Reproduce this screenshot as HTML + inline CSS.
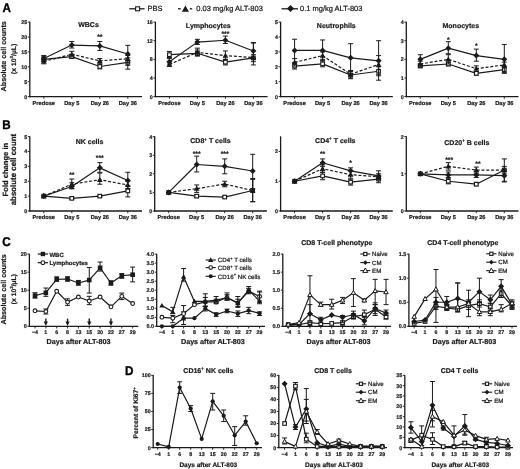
<!DOCTYPE html>
<html><head><meta charset="utf-8"><title>Figure</title>
<style>html,body{margin:0;padding:0;background:#fff;width:520px;height:469px;overflow:hidden}svg{display:block;filter:grayscale(1)}text{text-rendering:geometricPrecision}</style>
</head><body>
<svg width="520" height="469" viewBox="0 0 520 469" font-family='"Liberation Sans", sans-serif'>
<rect width="520" height="469" fill="#fff"/>
<line x1="129.3" y1="8.8" x2="144.5" y2="8.8" stroke="#1a1a1a" stroke-width="1.3"/>
<rect x="135.62" y="6.82" width="3.97" height="3.97" fill="#fff" stroke="#1a1a1a" stroke-width="1.1"/>
<text x="147.5" y="11.4" font-size="7.5" font-weight="normal" text-anchor="start" fill="#1a1a1a" stroke="#1a1a1a" stroke-width="0.22">PBS</text>
<line x1="178" y1="8.8" x2="180.8" y2="8.8" stroke="#1a1a1a" stroke-width="1.3"/>
<line x1="189.8" y1="8.8" x2="192.2" y2="8.8" stroke="#1a1a1a" stroke-width="1.3"/>
<polygon points="185.4,5.44 181.84,11.67 188.97,11.67" fill="#1a1a1a"/>
<text x="196.3" y="11.4" font-size="7.5" font-weight="normal" text-anchor="start" fill="#1a1a1a" stroke="#1a1a1a" stroke-width="0.22">0.03 mg/kg ALT-803</text>
<line x1="281.5" y1="8.8" x2="298" y2="8.8" stroke="#1a1a1a" stroke-width="1.3"/>
<polygon points="290.5,4.9 294.1,8.5 290.5,12.1 286.9,8.5" fill="#1a1a1a"/>
<text x="300" y="11.4" font-size="7.5" font-weight="normal" text-anchor="start" fill="#1a1a1a" stroke="#1a1a1a" stroke-width="0.22">0.1 mg/kg ALT-803</text>
<text transform="translate(2.6 11.7) scale(0.93 1)" font-size="12.6" font-weight="bold" fill="#000" stroke="#000" stroke-width="0.35">A</text>
<text transform="translate(2.2 129.4) scale(0.93 1)" font-size="12.6" font-weight="bold" fill="#000" stroke="#000" stroke-width="0.35">B</text>
<text transform="translate(2.3 246.2) scale(0.93 1)" font-size="12.6" font-weight="bold" fill="#000" stroke="#000" stroke-width="0.35">C</text>
<text transform="translate(125 374.9) scale(0.93 1)" font-size="12.6" font-weight="bold" fill="#000" stroke="#000" stroke-width="0.35">D</text>
<text x="6" y="56.3" font-size="7.2" font-weight="bold" text-anchor="middle" fill="#1a1a1a" transform="rotate(-90 6 56.3)" stroke="#1a1a1a" stroke-width="0.2">Absolute cell counts</text>
<text x="15.9" y="58.8" font-size="6.8" font-weight="bold" text-anchor="middle" fill="#1a1a1a" transform="rotate(-90 15.9 58.8)" stroke="#1a1a1a" stroke-width="0.2">(x 10<tspan font-size="4.4" dy="-2.6">3</tspan><tspan dy="2.6">/µL)</tspan></text>
<line x1="29.8" y1="21.8" x2="29.8" y2="97.15" stroke="#1a1a1a" stroke-width="1.3"/>
<line x1="29.3" y1="96.6" x2="142" y2="96.6" stroke="#1a1a1a" stroke-width="1.3"/>
<line x1="27.8" y1="96.6" x2="29.8" y2="96.6" stroke="#1a1a1a" stroke-width="0.9"/>
<text x="27.2" y="98.51" font-size="5.3" font-weight="bold" text-anchor="end" fill="#222" stroke="#222" stroke-width="0.2">0</text>
<line x1="27.8" y1="81.7" x2="29.8" y2="81.7" stroke="#1a1a1a" stroke-width="0.9"/>
<text x="27.2" y="83.61" font-size="5.3" font-weight="bold" text-anchor="end" fill="#222" stroke="#222" stroke-width="0.2">5</text>
<line x1="27.8" y1="66.8" x2="29.8" y2="66.8" stroke="#1a1a1a" stroke-width="0.9"/>
<text x="27.2" y="68.71" font-size="5.3" font-weight="bold" text-anchor="end" fill="#222" stroke="#222" stroke-width="0.2">10</text>
<line x1="27.8" y1="51.9" x2="29.8" y2="51.9" stroke="#1a1a1a" stroke-width="0.9"/>
<text x="27.2" y="53.81" font-size="5.3" font-weight="bold" text-anchor="end" fill="#222" stroke="#222" stroke-width="0.2">15</text>
<line x1="27.8" y1="37" x2="29.8" y2="37" stroke="#1a1a1a" stroke-width="0.9"/>
<text x="27.2" y="38.91" font-size="5.3" font-weight="bold" text-anchor="end" fill="#222" stroke="#222" stroke-width="0.2">20</text>
<line x1="27.8" y1="22.1" x2="29.8" y2="22.1" stroke="#1a1a1a" stroke-width="0.9"/>
<text x="27.2" y="24.01" font-size="5.3" font-weight="bold" text-anchor="end" fill="#222" stroke="#222" stroke-width="0.2">25</text>
<line x1="43.8" y1="96.6" x2="43.8" y2="98.8" stroke="#1a1a1a" stroke-width="0.9"/>
<text x="43.8" y="105" font-size="5.7" font-weight="bold" text-anchor="middle" fill="#1a1a1a" stroke="#1a1a1a" stroke-width="0.2">Predose</text>
<line x1="71.8" y1="96.6" x2="71.8" y2="98.8" stroke="#1a1a1a" stroke-width="0.9"/>
<text x="71.8" y="105" font-size="5.7" font-weight="bold" text-anchor="middle" fill="#1a1a1a" stroke="#1a1a1a" stroke-width="0.2">Day 5</text>
<line x1="99.8" y1="96.6" x2="99.8" y2="98.8" stroke="#1a1a1a" stroke-width="0.9"/>
<text x="99.8" y="105" font-size="5.7" font-weight="bold" text-anchor="middle" fill="#1a1a1a" stroke="#1a1a1a" stroke-width="0.2">Day 26</text>
<line x1="127.8" y1="96.6" x2="127.8" y2="98.8" stroke="#1a1a1a" stroke-width="0.9"/>
<text x="127.8" y="105" font-size="5.7" font-weight="bold" text-anchor="middle" fill="#1a1a1a" stroke="#1a1a1a" stroke-width="0.2">Day 36</text>
<text x="88.5" y="27" font-size="7" font-weight="bold" text-anchor="middle" fill="#1a1a1a" stroke="#1a1a1a" stroke-width="0.2">WBCs</text>
<polyline points="43.8,59.35 71.8,56.67 99.8,66.5 127.8,62.33" fill="none" stroke="#1a1a1a" stroke-width="1.2" stroke-linejoin="round"/>
<line x1="43.8" y1="61.44" x2="43.8" y2="56.37" stroke="#1a1a1a" stroke-width="1"/>
<line x1="41.3" y1="61.44" x2="46.3" y2="61.44" stroke="#1a1a1a" stroke-width="1"/>
<line x1="41.3" y1="56.37" x2="46.3" y2="56.37" stroke="#1a1a1a" stroke-width="1"/>
<line x1="71.8" y1="58.46" x2="71.8" y2="54.28" stroke="#1a1a1a" stroke-width="1"/>
<line x1="69.3" y1="58.46" x2="74.3" y2="58.46" stroke="#1a1a1a" stroke-width="1"/>
<line x1="69.3" y1="54.28" x2="74.3" y2="54.28" stroke="#1a1a1a" stroke-width="1"/>
<line x1="99.8" y1="68.89" x2="99.8" y2="64.12" stroke="#1a1a1a" stroke-width="1"/>
<line x1="97.3" y1="68.89" x2="102.3" y2="68.89" stroke="#1a1a1a" stroke-width="1"/>
<line x1="97.3" y1="64.12" x2="102.3" y2="64.12" stroke="#1a1a1a" stroke-width="1"/>
<line x1="127.8" y1="69.18" x2="127.8" y2="57.86" stroke="#1a1a1a" stroke-width="1"/>
<line x1="125.3" y1="69.18" x2="130.3" y2="69.18" stroke="#1a1a1a" stroke-width="1"/>
<line x1="125.3" y1="57.86" x2="130.3" y2="57.86" stroke="#1a1a1a" stroke-width="1"/>
<rect x="42" y="57.55" width="3.6" height="3.6" fill="#fff" stroke="#1a1a1a" stroke-width="1.1"/>
<rect x="70" y="54.87" width="3.6" height="3.6" fill="#fff" stroke="#1a1a1a" stroke-width="1.1"/>
<rect x="98" y="64.7" width="3.6" height="3.6" fill="#fff" stroke="#1a1a1a" stroke-width="1.1"/>
<rect x="126" y="60.53" width="3.6" height="3.6" fill="#fff" stroke="#1a1a1a" stroke-width="1.1"/>
<polyline points="43.8,61.44 71.8,54.28 99.8,60.84 127.8,58.75" fill="none" stroke="#1a1a1a" stroke-width="1.2" stroke-dasharray="3,1.8" stroke-linejoin="round"/>
<line x1="43.8" y1="63.82" x2="43.8" y2="59.35" stroke="#1a1a1a" stroke-width="1"/>
<line x1="41.3" y1="63.82" x2="46.3" y2="63.82" stroke="#1a1a1a" stroke-width="1"/>
<line x1="41.3" y1="59.35" x2="46.3" y2="59.35" stroke="#1a1a1a" stroke-width="1"/>
<line x1="71.8" y1="56.97" x2="71.8" y2="51.3" stroke="#1a1a1a" stroke-width="1"/>
<line x1="69.3" y1="56.97" x2="74.3" y2="56.97" stroke="#1a1a1a" stroke-width="1"/>
<line x1="69.3" y1="51.3" x2="74.3" y2="51.3" stroke="#1a1a1a" stroke-width="1"/>
<line x1="99.8" y1="63.82" x2="99.8" y2="58.46" stroke="#1a1a1a" stroke-width="1"/>
<line x1="97.3" y1="63.82" x2="102.3" y2="63.82" stroke="#1a1a1a" stroke-width="1"/>
<line x1="97.3" y1="58.46" x2="102.3" y2="58.46" stroke="#1a1a1a" stroke-width="1"/>
<line x1="127.8" y1="65.31" x2="127.8" y2="55.48" stroke="#1a1a1a" stroke-width="1"/>
<line x1="125.3" y1="65.31" x2="130.3" y2="65.31" stroke="#1a1a1a" stroke-width="1"/>
<line x1="125.3" y1="55.48" x2="130.3" y2="55.48" stroke="#1a1a1a" stroke-width="1"/>
<polygon points="43.8,58.56 40.92,63.59 46.67,63.59" fill="#1a1a1a"/>
<polygon points="71.8,51.41 68.92,56.44 74.67,56.44" fill="#1a1a1a"/>
<polygon points="99.8,57.96 96.92,63 102.67,63" fill="#1a1a1a"/>
<polygon points="127.8,55.88 124.92,60.91 130.68,60.91" fill="#1a1a1a"/>
<polyline points="43.8,58.46 71.8,45.05 99.8,45.94 127.8,53.99" fill="none" stroke="#1a1a1a" stroke-width="1.2" stroke-linejoin="round"/>
<line x1="43.8" y1="60.84" x2="43.8" y2="55.48" stroke="#1a1a1a" stroke-width="1"/>
<line x1="41.3" y1="60.84" x2="46.3" y2="60.84" stroke="#1a1a1a" stroke-width="1"/>
<line x1="41.3" y1="55.48" x2="46.3" y2="55.48" stroke="#1a1a1a" stroke-width="1"/>
<line x1="71.8" y1="48.03" x2="71.8" y2="41.47" stroke="#1a1a1a" stroke-width="1"/>
<line x1="69.3" y1="48.03" x2="74.3" y2="48.03" stroke="#1a1a1a" stroke-width="1"/>
<line x1="69.3" y1="41.47" x2="74.3" y2="41.47" stroke="#1a1a1a" stroke-width="1"/>
<line x1="99.8" y1="50.41" x2="99.8" y2="41.47" stroke="#1a1a1a" stroke-width="1"/>
<line x1="97.3" y1="50.41" x2="102.3" y2="50.41" stroke="#1a1a1a" stroke-width="1"/>
<line x1="97.3" y1="41.47" x2="102.3" y2="41.47" stroke="#1a1a1a" stroke-width="1"/>
<line x1="127.8" y1="62.33" x2="127.8" y2="45.34" stroke="#1a1a1a" stroke-width="1"/>
<line x1="125.3" y1="62.33" x2="130.3" y2="62.33" stroke="#1a1a1a" stroke-width="1"/>
<line x1="125.3" y1="45.34" x2="130.3" y2="45.34" stroke="#1a1a1a" stroke-width="1"/>
<polygon points="43.8,55.46 46.8,58.46 43.8,61.46 40.8,58.46" fill="#1a1a1a"/>
<polygon points="71.8,42.05 74.8,45.05 71.8,48.05 68.8,45.05" fill="#1a1a1a"/>
<polygon points="99.8,42.94 102.8,45.94 99.8,48.94 96.8,45.94" fill="#1a1a1a"/>
<polygon points="127.8,50.99 130.8,53.99 127.8,56.99 124.8,53.99" fill="#1a1a1a"/>
<text x="99.8" y="38.8" font-size="6.8" font-weight="bold" text-anchor="middle" fill="#1a1a1a" stroke="#1a1a1a" stroke-width="0.2">**</text>
<line x1="155.4" y1="21.8" x2="155.4" y2="97.15" stroke="#1a1a1a" stroke-width="1.3"/>
<line x1="154.9" y1="96.6" x2="267.6" y2="96.6" stroke="#1a1a1a" stroke-width="1.3"/>
<line x1="153.4" y1="96.6" x2="155.4" y2="96.6" stroke="#1a1a1a" stroke-width="0.9"/>
<text x="152.8" y="98.51" font-size="5.3" font-weight="bold" text-anchor="end" fill="#222" stroke="#222" stroke-width="0.2">0</text>
<line x1="153.4" y1="77.97" x2="155.4" y2="77.97" stroke="#1a1a1a" stroke-width="0.9"/>
<text x="152.8" y="79.88" font-size="5.3" font-weight="bold" text-anchor="end" fill="#222" stroke="#222" stroke-width="0.2">4</text>
<line x1="153.4" y1="59.35" x2="155.4" y2="59.35" stroke="#1a1a1a" stroke-width="0.9"/>
<text x="152.8" y="61.26" font-size="5.3" font-weight="bold" text-anchor="end" fill="#222" stroke="#222" stroke-width="0.2">8</text>
<line x1="153.4" y1="40.72" x2="155.4" y2="40.72" stroke="#1a1a1a" stroke-width="0.9"/>
<text x="152.8" y="42.63" font-size="5.3" font-weight="bold" text-anchor="end" fill="#222" stroke="#222" stroke-width="0.2">12</text>
<line x1="153.4" y1="22.1" x2="155.4" y2="22.1" stroke="#1a1a1a" stroke-width="0.9"/>
<text x="152.8" y="24.01" font-size="5.3" font-weight="bold" text-anchor="end" fill="#222" stroke="#222" stroke-width="0.2">16</text>
<line x1="169.4" y1="96.6" x2="169.4" y2="98.8" stroke="#1a1a1a" stroke-width="0.9"/>
<text x="169.4" y="105" font-size="5.7" font-weight="bold" text-anchor="middle" fill="#1a1a1a" stroke="#1a1a1a" stroke-width="0.2">Predose</text>
<line x1="197.4" y1="96.6" x2="197.4" y2="98.8" stroke="#1a1a1a" stroke-width="0.9"/>
<text x="197.4" y="105" font-size="5.7" font-weight="bold" text-anchor="middle" fill="#1a1a1a" stroke="#1a1a1a" stroke-width="0.2">Day 5</text>
<line x1="225.4" y1="96.6" x2="225.4" y2="98.8" stroke="#1a1a1a" stroke-width="0.9"/>
<text x="225.4" y="105" font-size="5.7" font-weight="bold" text-anchor="middle" fill="#1a1a1a" stroke="#1a1a1a" stroke-width="0.2">Day 26</text>
<line x1="253.4" y1="96.6" x2="253.4" y2="98.8" stroke="#1a1a1a" stroke-width="0.9"/>
<text x="253.4" y="105" font-size="5.7" font-weight="bold" text-anchor="middle" fill="#1a1a1a" stroke="#1a1a1a" stroke-width="0.2">Day 36</text>
<text x="208.3" y="27.5" font-size="7" font-weight="bold" text-anchor="middle" fill="#1a1a1a" stroke="#1a1a1a" stroke-width="0.2">Lymphocytes</text>
<polyline points="169.4,54.69 197.4,53.3 225.4,62.14 253.4,57.95" fill="none" stroke="#1a1a1a" stroke-width="1.2" stroke-linejoin="round"/>
<line x1="169.4" y1="57.49" x2="169.4" y2="51.43" stroke="#1a1a1a" stroke-width="1"/>
<line x1="166.9" y1="57.49" x2="171.9" y2="57.49" stroke="#1a1a1a" stroke-width="1"/>
<line x1="166.9" y1="51.43" x2="171.9" y2="51.43" stroke="#1a1a1a" stroke-width="1"/>
<line x1="197.4" y1="56.09" x2="197.4" y2="50.04" stroke="#1a1a1a" stroke-width="1"/>
<line x1="194.9" y1="56.09" x2="199.9" y2="56.09" stroke="#1a1a1a" stroke-width="1"/>
<line x1="194.9" y1="50.04" x2="199.9" y2="50.04" stroke="#1a1a1a" stroke-width="1"/>
<line x1="225.4" y1="64.94" x2="225.4" y2="59.35" stroke="#1a1a1a" stroke-width="1"/>
<line x1="222.9" y1="64.94" x2="227.9" y2="64.94" stroke="#1a1a1a" stroke-width="1"/>
<line x1="222.9" y1="59.35" x2="227.9" y2="59.35" stroke="#1a1a1a" stroke-width="1"/>
<line x1="253.4" y1="61.68" x2="253.4" y2="54.69" stroke="#1a1a1a" stroke-width="1"/>
<line x1="250.9" y1="61.68" x2="255.9" y2="61.68" stroke="#1a1a1a" stroke-width="1"/>
<line x1="250.9" y1="54.69" x2="255.9" y2="54.69" stroke="#1a1a1a" stroke-width="1"/>
<rect x="167.6" y="52.89" width="3.6" height="3.6" fill="#fff" stroke="#1a1a1a" stroke-width="1.1"/>
<rect x="195.6" y="51.5" width="3.6" height="3.6" fill="#fff" stroke="#1a1a1a" stroke-width="1.1"/>
<rect x="223.6" y="60.34" width="3.6" height="3.6" fill="#fff" stroke="#1a1a1a" stroke-width="1.1"/>
<rect x="251.6" y="56.15" width="3.6" height="3.6" fill="#fff" stroke="#1a1a1a" stroke-width="1.1"/>
<polyline points="169.4,64.47 197.4,52.37 225.4,55.62 253.4,57.49" fill="none" stroke="#1a1a1a" stroke-width="1.2" stroke-dasharray="3,1.8" stroke-linejoin="round"/>
<line x1="169.4" y1="66.33" x2="169.4" y2="61.68" stroke="#1a1a1a" stroke-width="1"/>
<line x1="166.9" y1="66.33" x2="171.9" y2="66.33" stroke="#1a1a1a" stroke-width="1"/>
<line x1="166.9" y1="61.68" x2="171.9" y2="61.68" stroke="#1a1a1a" stroke-width="1"/>
<line x1="197.4" y1="55.62" x2="197.4" y2="48.17" stroke="#1a1a1a" stroke-width="1"/>
<line x1="194.9" y1="55.62" x2="199.9" y2="55.62" stroke="#1a1a1a" stroke-width="1"/>
<line x1="194.9" y1="48.17" x2="199.9" y2="48.17" stroke="#1a1a1a" stroke-width="1"/>
<line x1="225.4" y1="59.35" x2="225.4" y2="50.97" stroke="#1a1a1a" stroke-width="1"/>
<line x1="222.9" y1="59.35" x2="227.9" y2="59.35" stroke="#1a1a1a" stroke-width="1"/>
<line x1="222.9" y1="50.97" x2="227.9" y2="50.97" stroke="#1a1a1a" stroke-width="1"/>
<line x1="253.4" y1="64.94" x2="253.4" y2="42.59" stroke="#1a1a1a" stroke-width="1"/>
<line x1="250.9" y1="64.94" x2="255.9" y2="64.94" stroke="#1a1a1a" stroke-width="1"/>
<line x1="250.9" y1="42.59" x2="255.9" y2="42.59" stroke="#1a1a1a" stroke-width="1"/>
<polygon points="169.4,61.6 166.53,66.63 172.28,66.63" fill="#1a1a1a"/>
<polygon points="197.4,49.49 194.53,54.52 200.28,54.52" fill="#1a1a1a"/>
<polygon points="225.4,52.75 222.53,57.78 228.28,57.78" fill="#1a1a1a"/>
<polygon points="253.4,54.61 250.53,59.64 256.27,59.64" fill="#1a1a1a"/>
<polyline points="169.4,61.68 197.4,42.12 225.4,40.26 253.4,50.97" fill="none" stroke="#1a1a1a" stroke-width="1.2" stroke-linejoin="round"/>
<line x1="169.4" y1="64.01" x2="169.4" y2="58.42" stroke="#1a1a1a" stroke-width="1"/>
<line x1="166.9" y1="64.01" x2="171.9" y2="64.01" stroke="#1a1a1a" stroke-width="1"/>
<line x1="166.9" y1="58.42" x2="171.9" y2="58.42" stroke="#1a1a1a" stroke-width="1"/>
<line x1="197.4" y1="44.45" x2="197.4" y2="39.33" stroke="#1a1a1a" stroke-width="1"/>
<line x1="194.9" y1="44.45" x2="199.9" y2="44.45" stroke="#1a1a1a" stroke-width="1"/>
<line x1="194.9" y1="39.33" x2="199.9" y2="39.33" stroke="#1a1a1a" stroke-width="1"/>
<line x1="225.4" y1="43.52" x2="225.4" y2="36.07" stroke="#1a1a1a" stroke-width="1"/>
<line x1="222.9" y1="43.52" x2="227.9" y2="43.52" stroke="#1a1a1a" stroke-width="1"/>
<line x1="222.9" y1="36.07" x2="227.9" y2="36.07" stroke="#1a1a1a" stroke-width="1"/>
<line x1="253.4" y1="58.42" x2="253.4" y2="43.05" stroke="#1a1a1a" stroke-width="1"/>
<line x1="250.9" y1="58.42" x2="255.9" y2="58.42" stroke="#1a1a1a" stroke-width="1"/>
<line x1="250.9" y1="43.05" x2="255.9" y2="43.05" stroke="#1a1a1a" stroke-width="1"/>
<polygon points="169.4,58.68 172.4,61.68 169.4,64.68 166.4,61.68" fill="#1a1a1a"/>
<polygon points="197.4,39.12 200.4,42.12 197.4,45.12 194.4,42.12" fill="#1a1a1a"/>
<polygon points="225.4,37.26 228.4,40.26 225.4,43.26 222.4,40.26" fill="#1a1a1a"/>
<polygon points="253.4,47.97 256.4,50.97 253.4,53.97 250.4,50.97" fill="#1a1a1a"/>
<text x="225.4" y="36.3" font-size="6.8" font-weight="bold" text-anchor="middle" fill="#1a1a1a" stroke="#1a1a1a" stroke-width="0.2">***</text>
<line x1="280.6" y1="21.8" x2="280.6" y2="97.15" stroke="#1a1a1a" stroke-width="1.3"/>
<line x1="280.1" y1="96.6" x2="392.8" y2="96.6" stroke="#1a1a1a" stroke-width="1.3"/>
<line x1="278.6" y1="96.6" x2="280.6" y2="96.6" stroke="#1a1a1a" stroke-width="0.9"/>
<text x="278" y="98.51" font-size="5.3" font-weight="bold" text-anchor="end" fill="#222" stroke="#222" stroke-width="0.2">0</text>
<line x1="278.6" y1="81.7" x2="280.6" y2="81.7" stroke="#1a1a1a" stroke-width="0.9"/>
<text x="278" y="83.61" font-size="5.3" font-weight="bold" text-anchor="end" fill="#222" stroke="#222" stroke-width="0.2">1</text>
<line x1="278.6" y1="66.8" x2="280.6" y2="66.8" stroke="#1a1a1a" stroke-width="0.9"/>
<text x="278" y="68.71" font-size="5.3" font-weight="bold" text-anchor="end" fill="#222" stroke="#222" stroke-width="0.2">2</text>
<line x1="278.6" y1="51.9" x2="280.6" y2="51.9" stroke="#1a1a1a" stroke-width="0.9"/>
<text x="278" y="53.81" font-size="5.3" font-weight="bold" text-anchor="end" fill="#222" stroke="#222" stroke-width="0.2">3</text>
<line x1="278.6" y1="37" x2="280.6" y2="37" stroke="#1a1a1a" stroke-width="0.9"/>
<text x="278" y="38.91" font-size="5.3" font-weight="bold" text-anchor="end" fill="#222" stroke="#222" stroke-width="0.2">4</text>
<line x1="278.6" y1="22.1" x2="280.6" y2="22.1" stroke="#1a1a1a" stroke-width="0.9"/>
<text x="278" y="24.01" font-size="5.3" font-weight="bold" text-anchor="end" fill="#222" stroke="#222" stroke-width="0.2">5</text>
<line x1="294.6" y1="96.6" x2="294.6" y2="98.8" stroke="#1a1a1a" stroke-width="0.9"/>
<text x="294.6" y="105" font-size="5.7" font-weight="bold" text-anchor="middle" fill="#1a1a1a" stroke="#1a1a1a" stroke-width="0.2">Predose</text>
<line x1="322.6" y1="96.6" x2="322.6" y2="98.8" stroke="#1a1a1a" stroke-width="0.9"/>
<text x="322.6" y="105" font-size="5.7" font-weight="bold" text-anchor="middle" fill="#1a1a1a" stroke="#1a1a1a" stroke-width="0.2">Day 5</text>
<line x1="350.6" y1="96.6" x2="350.6" y2="98.8" stroke="#1a1a1a" stroke-width="0.9"/>
<text x="350.6" y="105" font-size="5.7" font-weight="bold" text-anchor="middle" fill="#1a1a1a" stroke="#1a1a1a" stroke-width="0.2">Day 26</text>
<line x1="378.6" y1="96.6" x2="378.6" y2="98.8" stroke="#1a1a1a" stroke-width="0.9"/>
<text x="378.6" y="105" font-size="5.7" font-weight="bold" text-anchor="middle" fill="#1a1a1a" stroke="#1a1a1a" stroke-width="0.2">Day 36</text>
<text x="336.3" y="27.5" font-size="7" font-weight="bold" text-anchor="middle" fill="#1a1a1a" stroke="#1a1a1a" stroke-width="0.2">Neutrophils</text>
<polyline points="294.6,66.05 322.6,63.82 350.6,75 378.6,71.27" fill="none" stroke="#1a1a1a" stroke-width="1.2" stroke-linejoin="round"/>
<line x1="294.6" y1="69.03" x2="294.6" y2="63.07" stroke="#1a1a1a" stroke-width="1"/>
<line x1="292.1" y1="69.03" x2="297.1" y2="69.03" stroke="#1a1a1a" stroke-width="1"/>
<line x1="292.1" y1="63.07" x2="297.1" y2="63.07" stroke="#1a1a1a" stroke-width="1"/>
<line x1="322.6" y1="66.8" x2="322.6" y2="60.84" stroke="#1a1a1a" stroke-width="1"/>
<line x1="320.1" y1="66.8" x2="325.1" y2="66.8" stroke="#1a1a1a" stroke-width="1"/>
<line x1="320.1" y1="60.84" x2="325.1" y2="60.84" stroke="#1a1a1a" stroke-width="1"/>
<line x1="350.6" y1="78.72" x2="350.6" y2="71.27" stroke="#1a1a1a" stroke-width="1"/>
<line x1="348.1" y1="78.72" x2="353.1" y2="78.72" stroke="#1a1a1a" stroke-width="1"/>
<line x1="348.1" y1="71.27" x2="353.1" y2="71.27" stroke="#1a1a1a" stroke-width="1"/>
<line x1="378.6" y1="75.74" x2="378.6" y2="66.8" stroke="#1a1a1a" stroke-width="1"/>
<line x1="376.1" y1="75.74" x2="381.1" y2="75.74" stroke="#1a1a1a" stroke-width="1"/>
<line x1="376.1" y1="66.8" x2="381.1" y2="66.8" stroke="#1a1a1a" stroke-width="1"/>
<rect x="292.8" y="64.25" width="3.6" height="3.6" fill="#fff" stroke="#1a1a1a" stroke-width="1.1"/>
<rect x="320.8" y="62.02" width="3.6" height="3.6" fill="#fff" stroke="#1a1a1a" stroke-width="1.1"/>
<rect x="348.8" y="73.2" width="3.6" height="3.6" fill="#fff" stroke="#1a1a1a" stroke-width="1.1"/>
<rect x="376.8" y="69.47" width="3.6" height="3.6" fill="#fff" stroke="#1a1a1a" stroke-width="1.1"/>
<polyline points="294.6,62.33 322.6,55.62 350.6,74.25 378.6,64.56" fill="none" stroke="#1a1a1a" stroke-width="1.2" stroke-dasharray="3,1.8" stroke-linejoin="round"/>
<line x1="294.6" y1="66.05" x2="294.6" y2="58.6" stroke="#1a1a1a" stroke-width="1"/>
<line x1="292.1" y1="66.05" x2="297.1" y2="66.05" stroke="#1a1a1a" stroke-width="1"/>
<line x1="292.1" y1="58.6" x2="297.1" y2="58.6" stroke="#1a1a1a" stroke-width="1"/>
<line x1="322.6" y1="59.35" x2="322.6" y2="51.9" stroke="#1a1a1a" stroke-width="1"/>
<line x1="320.1" y1="59.35" x2="325.1" y2="59.35" stroke="#1a1a1a" stroke-width="1"/>
<line x1="320.1" y1="51.9" x2="325.1" y2="51.9" stroke="#1a1a1a" stroke-width="1"/>
<line x1="350.6" y1="77.97" x2="350.6" y2="70.52" stroke="#1a1a1a" stroke-width="1"/>
<line x1="348.1" y1="77.97" x2="353.1" y2="77.97" stroke="#1a1a1a" stroke-width="1"/>
<line x1="348.1" y1="70.52" x2="353.1" y2="70.52" stroke="#1a1a1a" stroke-width="1"/>
<line x1="378.6" y1="74.25" x2="378.6" y2="55.62" stroke="#1a1a1a" stroke-width="1"/>
<line x1="376.1" y1="74.25" x2="381.1" y2="74.25" stroke="#1a1a1a" stroke-width="1"/>
<line x1="376.1" y1="55.62" x2="381.1" y2="55.62" stroke="#1a1a1a" stroke-width="1"/>
<polygon points="294.6,59.45 291.73,64.49 297.48,64.49" fill="#1a1a1a"/>
<polygon points="322.6,52.75 319.73,57.78 325.48,57.78" fill="#1a1a1a"/>
<polygon points="350.6,71.38 347.73,76.41 353.48,76.41" fill="#1a1a1a"/>
<polygon points="378.6,61.69 375.73,66.72 381.48,66.72" fill="#1a1a1a"/>
<polyline points="294.6,50.41 322.6,50.41 350.6,57.86 378.6,60.84" fill="none" stroke="#1a1a1a" stroke-width="1.2" stroke-linejoin="round"/>
<line x1="294.6" y1="62.33" x2="294.6" y2="39.23" stroke="#1a1a1a" stroke-width="1"/>
<line x1="292.1" y1="62.33" x2="297.1" y2="62.33" stroke="#1a1a1a" stroke-width="1"/>
<line x1="292.1" y1="39.23" x2="297.1" y2="39.23" stroke="#1a1a1a" stroke-width="1"/>
<line x1="322.6" y1="60.84" x2="322.6" y2="39.98" stroke="#1a1a1a" stroke-width="1"/>
<line x1="320.1" y1="60.84" x2="325.1" y2="60.84" stroke="#1a1a1a" stroke-width="1"/>
<line x1="320.1" y1="39.98" x2="325.1" y2="39.98" stroke="#1a1a1a" stroke-width="1"/>
<line x1="350.6" y1="71.27" x2="350.6" y2="43.7" stroke="#1a1a1a" stroke-width="1"/>
<line x1="348.1" y1="71.27" x2="353.1" y2="71.27" stroke="#1a1a1a" stroke-width="1"/>
<line x1="348.1" y1="43.7" x2="353.1" y2="43.7" stroke="#1a1a1a" stroke-width="1"/>
<line x1="378.6" y1="80.21" x2="378.6" y2="40.72" stroke="#1a1a1a" stroke-width="1"/>
<line x1="376.1" y1="80.21" x2="381.1" y2="80.21" stroke="#1a1a1a" stroke-width="1"/>
<line x1="376.1" y1="40.72" x2="381.1" y2="40.72" stroke="#1a1a1a" stroke-width="1"/>
<polygon points="294.6,47.41 297.6,50.41 294.6,53.41 291.6,50.41" fill="#1a1a1a"/>
<polygon points="322.6,47.41 325.6,50.41 322.6,53.41 319.6,50.41" fill="#1a1a1a"/>
<polygon points="350.6,54.86 353.6,57.86 350.6,60.86 347.6,57.86" fill="#1a1a1a"/>
<polygon points="378.6,57.84 381.6,60.84 378.6,63.84 375.6,60.84" fill="#1a1a1a"/>
<line x1="406.3" y1="21.8" x2="406.3" y2="97.15" stroke="#1a1a1a" stroke-width="1.3"/>
<line x1="405.8" y1="96.6" x2="518.5" y2="96.6" stroke="#1a1a1a" stroke-width="1.3"/>
<line x1="404.3" y1="96.6" x2="406.3" y2="96.6" stroke="#1a1a1a" stroke-width="0.9"/>
<text x="403.7" y="98.51" font-size="5.3" font-weight="bold" text-anchor="end" fill="#222" stroke="#222" stroke-width="0.2">0</text>
<line x1="404.3" y1="77.97" x2="406.3" y2="77.97" stroke="#1a1a1a" stroke-width="0.9"/>
<text x="403.7" y="79.88" font-size="5.3" font-weight="bold" text-anchor="end" fill="#222" stroke="#222" stroke-width="0.2">1</text>
<line x1="404.3" y1="59.35" x2="406.3" y2="59.35" stroke="#1a1a1a" stroke-width="0.9"/>
<text x="403.7" y="61.26" font-size="5.3" font-weight="bold" text-anchor="end" fill="#222" stroke="#222" stroke-width="0.2">2</text>
<line x1="404.3" y1="40.72" x2="406.3" y2="40.72" stroke="#1a1a1a" stroke-width="0.9"/>
<text x="403.7" y="42.63" font-size="5.3" font-weight="bold" text-anchor="end" fill="#222" stroke="#222" stroke-width="0.2">3</text>
<line x1="404.3" y1="22.1" x2="406.3" y2="22.1" stroke="#1a1a1a" stroke-width="0.9"/>
<text x="403.7" y="24.01" font-size="5.3" font-weight="bold" text-anchor="end" fill="#222" stroke="#222" stroke-width="0.2">4</text>
<line x1="420.3" y1="96.6" x2="420.3" y2="98.8" stroke="#1a1a1a" stroke-width="0.9"/>
<text x="420.3" y="105" font-size="5.7" font-weight="bold" text-anchor="middle" fill="#1a1a1a" stroke="#1a1a1a" stroke-width="0.2">Predose</text>
<line x1="448.3" y1="96.6" x2="448.3" y2="98.8" stroke="#1a1a1a" stroke-width="0.9"/>
<text x="448.3" y="105" font-size="5.7" font-weight="bold" text-anchor="middle" fill="#1a1a1a" stroke="#1a1a1a" stroke-width="0.2">Day 5</text>
<line x1="476.3" y1="96.6" x2="476.3" y2="98.8" stroke="#1a1a1a" stroke-width="0.9"/>
<text x="476.3" y="105" font-size="5.7" font-weight="bold" text-anchor="middle" fill="#1a1a1a" stroke="#1a1a1a" stroke-width="0.2">Day 26</text>
<line x1="504.3" y1="96.6" x2="504.3" y2="98.8" stroke="#1a1a1a" stroke-width="0.9"/>
<text x="504.3" y="105" font-size="5.7" font-weight="bold" text-anchor="middle" fill="#1a1a1a" stroke="#1a1a1a" stroke-width="0.2">Day 36</text>
<text x="460.8" y="27.5" font-size="7" font-weight="bold" text-anchor="middle" fill="#1a1a1a" stroke="#1a1a1a" stroke-width="0.2">Monocytes</text>
<polyline points="420.3,65.87 448.3,64.01 476.3,73.32 504.3,69.59" fill="none" stroke="#1a1a1a" stroke-width="1.2" stroke-linejoin="round"/>
<line x1="420.3" y1="67.73" x2="420.3" y2="64.01" stroke="#1a1a1a" stroke-width="1"/>
<line x1="417.8" y1="67.73" x2="422.8" y2="67.73" stroke="#1a1a1a" stroke-width="1"/>
<line x1="417.8" y1="64.01" x2="422.8" y2="64.01" stroke="#1a1a1a" stroke-width="1"/>
<line x1="448.3" y1="65.87" x2="448.3" y2="62.14" stroke="#1a1a1a" stroke-width="1"/>
<line x1="445.8" y1="65.87" x2="450.8" y2="65.87" stroke="#1a1a1a" stroke-width="1"/>
<line x1="445.8" y1="62.14" x2="450.8" y2="62.14" stroke="#1a1a1a" stroke-width="1"/>
<line x1="476.3" y1="75.18" x2="476.3" y2="71.46" stroke="#1a1a1a" stroke-width="1"/>
<line x1="473.8" y1="75.18" x2="478.8" y2="75.18" stroke="#1a1a1a" stroke-width="1"/>
<line x1="473.8" y1="71.46" x2="478.8" y2="71.46" stroke="#1a1a1a" stroke-width="1"/>
<line x1="504.3" y1="73.32" x2="504.3" y2="66.8" stroke="#1a1a1a" stroke-width="1"/>
<line x1="501.8" y1="73.32" x2="506.8" y2="73.32" stroke="#1a1a1a" stroke-width="1"/>
<line x1="501.8" y1="66.8" x2="506.8" y2="66.8" stroke="#1a1a1a" stroke-width="1"/>
<rect x="418.5" y="64.07" width="3.6" height="3.6" fill="#fff" stroke="#1a1a1a" stroke-width="1.1"/>
<rect x="446.5" y="62.21" width="3.6" height="3.6" fill="#fff" stroke="#1a1a1a" stroke-width="1.1"/>
<rect x="474.5" y="71.52" width="3.6" height="3.6" fill="#fff" stroke="#1a1a1a" stroke-width="1.1"/>
<rect x="502.5" y="67.79" width="3.6" height="3.6" fill="#fff" stroke="#1a1a1a" stroke-width="1.1"/>
<polyline points="420.3,64.01 448.3,59.35 476.3,68.66 504.3,64.94" fill="none" stroke="#1a1a1a" stroke-width="1.2" stroke-dasharray="3,1.8" stroke-linejoin="round"/>
<line x1="420.3" y1="66.8" x2="420.3" y2="61.21" stroke="#1a1a1a" stroke-width="1"/>
<line x1="417.8" y1="66.8" x2="422.8" y2="66.8" stroke="#1a1a1a" stroke-width="1"/>
<line x1="417.8" y1="61.21" x2="422.8" y2="61.21" stroke="#1a1a1a" stroke-width="1"/>
<line x1="448.3" y1="64.01" x2="448.3" y2="54.69" stroke="#1a1a1a" stroke-width="1"/>
<line x1="445.8" y1="64.01" x2="450.8" y2="64.01" stroke="#1a1a1a" stroke-width="1"/>
<line x1="445.8" y1="54.69" x2="450.8" y2="54.69" stroke="#1a1a1a" stroke-width="1"/>
<line x1="476.3" y1="71.46" x2="476.3" y2="65.87" stroke="#1a1a1a" stroke-width="1"/>
<line x1="473.8" y1="71.46" x2="478.8" y2="71.46" stroke="#1a1a1a" stroke-width="1"/>
<line x1="473.8" y1="65.87" x2="478.8" y2="65.87" stroke="#1a1a1a" stroke-width="1"/>
<line x1="504.3" y1="67.73" x2="504.3" y2="62.14" stroke="#1a1a1a" stroke-width="1"/>
<line x1="501.8" y1="67.73" x2="506.8" y2="67.73" stroke="#1a1a1a" stroke-width="1"/>
<line x1="501.8" y1="62.14" x2="506.8" y2="62.14" stroke="#1a1a1a" stroke-width="1"/>
<polygon points="420.3,61.13 417.43,66.16 423.18,66.16" fill="#1a1a1a"/>
<polygon points="448.3,56.47 445.43,61.51 451.18,61.51" fill="#1a1a1a"/>
<polygon points="476.3,65.79 473.43,70.82 479.18,70.82" fill="#1a1a1a"/>
<polygon points="504.3,62.06 501.43,67.09 507.18,67.09" fill="#1a1a1a"/>
<polyline points="420.3,59.35 448.3,48.17 476.3,55.62 504.3,59.35" fill="none" stroke="#1a1a1a" stroke-width="1.2" stroke-linejoin="round"/>
<line x1="420.3" y1="64.01" x2="420.3" y2="54.69" stroke="#1a1a1a" stroke-width="1"/>
<line x1="417.8" y1="64.01" x2="422.8" y2="64.01" stroke="#1a1a1a" stroke-width="1"/>
<line x1="417.8" y1="54.69" x2="422.8" y2="54.69" stroke="#1a1a1a" stroke-width="1"/>
<line x1="448.3" y1="53.76" x2="448.3" y2="41.66" stroke="#1a1a1a" stroke-width="1"/>
<line x1="445.8" y1="53.76" x2="450.8" y2="53.76" stroke="#1a1a1a" stroke-width="1"/>
<line x1="445.8" y1="41.66" x2="450.8" y2="41.66" stroke="#1a1a1a" stroke-width="1"/>
<line x1="476.3" y1="61.21" x2="476.3" y2="49.11" stroke="#1a1a1a" stroke-width="1"/>
<line x1="473.8" y1="61.21" x2="478.8" y2="61.21" stroke="#1a1a1a" stroke-width="1"/>
<line x1="473.8" y1="49.11" x2="478.8" y2="49.11" stroke="#1a1a1a" stroke-width="1"/>
<line x1="504.3" y1="72.39" x2="504.3" y2="44.45" stroke="#1a1a1a" stroke-width="1"/>
<line x1="501.8" y1="72.39" x2="506.8" y2="72.39" stroke="#1a1a1a" stroke-width="1"/>
<line x1="501.8" y1="44.45" x2="506.8" y2="44.45" stroke="#1a1a1a" stroke-width="1"/>
<polygon points="420.3,56.35 423.3,59.35 420.3,62.35 417.3,59.35" fill="#1a1a1a"/>
<polygon points="448.3,45.17 451.3,48.17 448.3,51.17 445.3,48.17" fill="#1a1a1a"/>
<polygon points="476.3,52.62 479.3,55.62 476.3,58.62 473.3,55.62" fill="#1a1a1a"/>
<polygon points="504.3,56.35 507.3,59.35 504.3,62.35 501.3,59.35" fill="#1a1a1a"/>
<text x="448.3" y="42.3" font-size="6.8" font-weight="bold" text-anchor="middle" fill="#1a1a1a" stroke="#1a1a1a" stroke-width="0.2">*</text>
<text x="476.3" y="48.3" font-size="6.8" font-weight="bold" text-anchor="middle" fill="#1a1a1a" stroke="#1a1a1a" stroke-width="0.2">*</text>
<text x="8" y="169.6" font-size="7.6" font-weight="bold" text-anchor="middle" fill="#1a1a1a" transform="rotate(-90 8 169.6)" stroke="#1a1a1a" stroke-width="0.2">Fold change in</text>
<text x="15.8" y="169.6" font-size="7.9" font-weight="bold" text-anchor="middle" fill="#1a1a1a" transform="rotate(-90 15.8 169.6)" stroke="#1a1a1a" stroke-width="0.2">absolute cell count</text>
<line x1="29.8" y1="136.3" x2="29.8" y2="211.55" stroke="#1a1a1a" stroke-width="1.3"/>
<line x1="29.3" y1="211" x2="142" y2="211" stroke="#1a1a1a" stroke-width="1.3"/>
<line x1="27.8" y1="211" x2="29.8" y2="211" stroke="#1a1a1a" stroke-width="0.9"/>
<text x="27.2" y="212.91" font-size="5.3" font-weight="bold" text-anchor="end" fill="#222" stroke="#222" stroke-width="0.2">0</text>
<line x1="27.8" y1="196.12" x2="29.8" y2="196.12" stroke="#1a1a1a" stroke-width="0.9"/>
<text x="27.2" y="198.03" font-size="5.3" font-weight="bold" text-anchor="end" fill="#222" stroke="#222" stroke-width="0.2">1</text>
<line x1="27.8" y1="181.24" x2="29.8" y2="181.24" stroke="#1a1a1a" stroke-width="0.9"/>
<text x="27.2" y="183.15" font-size="5.3" font-weight="bold" text-anchor="end" fill="#222" stroke="#222" stroke-width="0.2">2</text>
<line x1="27.8" y1="166.36" x2="29.8" y2="166.36" stroke="#1a1a1a" stroke-width="0.9"/>
<text x="27.2" y="168.27" font-size="5.3" font-weight="bold" text-anchor="end" fill="#222" stroke="#222" stroke-width="0.2">3</text>
<line x1="27.8" y1="151.48" x2="29.8" y2="151.48" stroke="#1a1a1a" stroke-width="0.9"/>
<text x="27.2" y="153.39" font-size="5.3" font-weight="bold" text-anchor="end" fill="#222" stroke="#222" stroke-width="0.2">4</text>
<line x1="27.8" y1="136.6" x2="29.8" y2="136.6" stroke="#1a1a1a" stroke-width="0.9"/>
<text x="27.2" y="138.51" font-size="5.3" font-weight="bold" text-anchor="end" fill="#222" stroke="#222" stroke-width="0.2">5</text>
<line x1="43.8" y1="211" x2="43.8" y2="213.2" stroke="#1a1a1a" stroke-width="0.9"/>
<text x="43.8" y="219.4" font-size="5.7" font-weight="bold" text-anchor="middle" fill="#1a1a1a" stroke="#1a1a1a" stroke-width="0.2">Predose</text>
<line x1="71.8" y1="211" x2="71.8" y2="213.2" stroke="#1a1a1a" stroke-width="0.9"/>
<text x="71.8" y="219.4" font-size="5.7" font-weight="bold" text-anchor="middle" fill="#1a1a1a" stroke="#1a1a1a" stroke-width="0.2">Day 5</text>
<line x1="99.8" y1="211" x2="99.8" y2="213.2" stroke="#1a1a1a" stroke-width="0.9"/>
<text x="99.8" y="219.4" font-size="5.7" font-weight="bold" text-anchor="middle" fill="#1a1a1a" stroke="#1a1a1a" stroke-width="0.2">Day 26</text>
<line x1="127.8" y1="211" x2="127.8" y2="213.2" stroke="#1a1a1a" stroke-width="0.9"/>
<text x="127.8" y="219.4" font-size="5.7" font-weight="bold" text-anchor="middle" fill="#1a1a1a" stroke="#1a1a1a" stroke-width="0.2">Day 36</text>
<text x="89.6" y="143.7" font-size="7" font-weight="bold" text-anchor="middle" fill="#1a1a1a" stroke="#1a1a1a" stroke-width="0.2">NK cells</text>
<polyline points="43.8,196.12 71.8,198.35 99.8,196.12 127.8,190.91" fill="none" stroke="#1a1a1a" stroke-width="1.2" stroke-linejoin="round"/>
<line x1="71.8" y1="199.39" x2="71.8" y2="197.31" stroke="#1a1a1a" stroke-width="1"/>
<line x1="69.3" y1="199.39" x2="74.3" y2="199.39" stroke="#1a1a1a" stroke-width="1"/>
<line x1="69.3" y1="197.31" x2="74.3" y2="197.31" stroke="#1a1a1a" stroke-width="1"/>
<line x1="99.8" y1="196.86" x2="99.8" y2="195.38" stroke="#1a1a1a" stroke-width="1"/>
<line x1="97.3" y1="196.86" x2="102.3" y2="196.86" stroke="#1a1a1a" stroke-width="1"/>
<line x1="97.3" y1="195.38" x2="102.3" y2="195.38" stroke="#1a1a1a" stroke-width="1"/>
<line x1="127.8" y1="196.86" x2="127.8" y2="185.7" stroke="#1a1a1a" stroke-width="1"/>
<line x1="125.3" y1="196.86" x2="130.3" y2="196.86" stroke="#1a1a1a" stroke-width="1"/>
<line x1="125.3" y1="185.7" x2="130.3" y2="185.7" stroke="#1a1a1a" stroke-width="1"/>
<rect x="42" y="194.32" width="3.6" height="3.6" fill="#fff" stroke="#1a1a1a" stroke-width="1.1"/>
<rect x="70" y="196.55" width="3.6" height="3.6" fill="#fff" stroke="#1a1a1a" stroke-width="1.1"/>
<rect x="98" y="194.32" width="3.6" height="3.6" fill="#fff" stroke="#1a1a1a" stroke-width="1.1"/>
<rect x="126" y="189.11" width="3.6" height="3.6" fill="#fff" stroke="#1a1a1a" stroke-width="1.1"/>
<polyline points="43.8,196.12 71.8,184.22 99.8,179.75 127.8,184.96" fill="none" stroke="#1a1a1a" stroke-width="1.2" stroke-dasharray="3,1.8" stroke-linejoin="round"/>
<line x1="71.8" y1="188.68" x2="71.8" y2="179.01" stroke="#1a1a1a" stroke-width="1"/>
<line x1="69.3" y1="188.68" x2="74.3" y2="188.68" stroke="#1a1a1a" stroke-width="1"/>
<line x1="69.3" y1="179.01" x2="74.3" y2="179.01" stroke="#1a1a1a" stroke-width="1"/>
<line x1="99.8" y1="184.22" x2="99.8" y2="173.06" stroke="#1a1a1a" stroke-width="1"/>
<line x1="97.3" y1="184.22" x2="102.3" y2="184.22" stroke="#1a1a1a" stroke-width="1"/>
<line x1="97.3" y1="173.06" x2="102.3" y2="173.06" stroke="#1a1a1a" stroke-width="1"/>
<line x1="127.8" y1="188.68" x2="127.8" y2="181.24" stroke="#1a1a1a" stroke-width="1"/>
<line x1="125.3" y1="188.68" x2="130.3" y2="188.68" stroke="#1a1a1a" stroke-width="1"/>
<line x1="125.3" y1="181.24" x2="130.3" y2="181.24" stroke="#1a1a1a" stroke-width="1"/>
<polygon points="43.8,193.25 40.92,198.28 46.67,198.28" fill="#1a1a1a"/>
<polygon points="71.8,181.34 68.92,186.37 74.67,186.37" fill="#1a1a1a"/>
<polygon points="99.8,176.88 96.92,181.91 102.67,181.91" fill="#1a1a1a"/>
<polygon points="127.8,182.09 124.92,187.12 130.68,187.12" fill="#1a1a1a"/>
<polyline points="43.8,196.12 71.8,186.45 99.8,167.85 127.8,180.5" fill="none" stroke="#1a1a1a" stroke-width="1.2" stroke-linejoin="round"/>
<line x1="71.8" y1="188.68" x2="71.8" y2="182.73" stroke="#1a1a1a" stroke-width="1"/>
<line x1="69.3" y1="188.68" x2="74.3" y2="188.68" stroke="#1a1a1a" stroke-width="1"/>
<line x1="69.3" y1="182.73" x2="74.3" y2="182.73" stroke="#1a1a1a" stroke-width="1"/>
<line x1="99.8" y1="172.31" x2="99.8" y2="162.64" stroke="#1a1a1a" stroke-width="1"/>
<line x1="97.3" y1="172.31" x2="102.3" y2="172.31" stroke="#1a1a1a" stroke-width="1"/>
<line x1="97.3" y1="162.64" x2="102.3" y2="162.64" stroke="#1a1a1a" stroke-width="1"/>
<line x1="127.8" y1="188.68" x2="127.8" y2="172.31" stroke="#1a1a1a" stroke-width="1"/>
<line x1="125.3" y1="188.68" x2="130.3" y2="188.68" stroke="#1a1a1a" stroke-width="1"/>
<line x1="125.3" y1="172.31" x2="130.3" y2="172.31" stroke="#1a1a1a" stroke-width="1"/>
<polygon points="43.8,193.12 46.8,196.12 43.8,199.12 40.8,196.12" fill="#1a1a1a"/>
<polygon points="71.8,183.45 74.8,186.45 71.8,189.45 68.8,186.45" fill="#1a1a1a"/>
<polygon points="99.8,164.85 102.8,167.85 99.8,170.85 96.8,167.85" fill="#1a1a1a"/>
<polygon points="127.8,177.5 130.8,180.5 127.8,183.5 124.8,180.5" fill="#1a1a1a"/>
<text x="71.8" y="177.3" font-size="6.8" font-weight="bold" text-anchor="middle" fill="#1a1a1a" stroke="#1a1a1a" stroke-width="0.2">**</text>
<text x="99.8" y="160.3" font-size="6.8" font-weight="bold" text-anchor="middle" fill="#1a1a1a" stroke="#1a1a1a" stroke-width="0.2">***</text>
<line x1="154.7" y1="136.3" x2="154.7" y2="211.55" stroke="#1a1a1a" stroke-width="1.3"/>
<line x1="154.2" y1="211" x2="266.9" y2="211" stroke="#1a1a1a" stroke-width="1.3"/>
<line x1="152.7" y1="211" x2="154.7" y2="211" stroke="#1a1a1a" stroke-width="0.9"/>
<text x="152.1" y="212.91" font-size="5.3" font-weight="bold" text-anchor="end" fill="#222" stroke="#222" stroke-width="0.2">0</text>
<line x1="152.7" y1="192.4" x2="154.7" y2="192.4" stroke="#1a1a1a" stroke-width="0.9"/>
<text x="152.1" y="194.31" font-size="5.3" font-weight="bold" text-anchor="end" fill="#222" stroke="#222" stroke-width="0.2">1</text>
<line x1="152.7" y1="173.8" x2="154.7" y2="173.8" stroke="#1a1a1a" stroke-width="0.9"/>
<text x="152.1" y="175.71" font-size="5.3" font-weight="bold" text-anchor="end" fill="#222" stroke="#222" stroke-width="0.2">2</text>
<line x1="152.7" y1="155.2" x2="154.7" y2="155.2" stroke="#1a1a1a" stroke-width="0.9"/>
<text x="152.1" y="157.11" font-size="5.3" font-weight="bold" text-anchor="end" fill="#222" stroke="#222" stroke-width="0.2">3</text>
<line x1="152.7" y1="136.6" x2="154.7" y2="136.6" stroke="#1a1a1a" stroke-width="0.9"/>
<text x="152.1" y="138.51" font-size="5.3" font-weight="bold" text-anchor="end" fill="#222" stroke="#222" stroke-width="0.2">4</text>
<line x1="168.7" y1="211" x2="168.7" y2="213.2" stroke="#1a1a1a" stroke-width="0.9"/>
<text x="168.7" y="219.4" font-size="5.7" font-weight="bold" text-anchor="middle" fill="#1a1a1a" stroke="#1a1a1a" stroke-width="0.2">Predose</text>
<line x1="196.7" y1="211" x2="196.7" y2="213.2" stroke="#1a1a1a" stroke-width="0.9"/>
<text x="196.7" y="219.4" font-size="5.7" font-weight="bold" text-anchor="middle" fill="#1a1a1a" stroke="#1a1a1a" stroke-width="0.2">Day 5</text>
<line x1="224.7" y1="211" x2="224.7" y2="213.2" stroke="#1a1a1a" stroke-width="0.9"/>
<text x="224.7" y="219.4" font-size="5.7" font-weight="bold" text-anchor="middle" fill="#1a1a1a" stroke="#1a1a1a" stroke-width="0.2">Day 26</text>
<line x1="252.7" y1="211" x2="252.7" y2="213.2" stroke="#1a1a1a" stroke-width="0.9"/>
<text x="252.7" y="219.4" font-size="5.7" font-weight="bold" text-anchor="middle" fill="#1a1a1a" stroke="#1a1a1a" stroke-width="0.2">Day 36</text>
<text x="210.5" y="143.3" font-size="7" font-weight="bold" text-anchor="middle" fill="#1a1a1a" stroke="#1a1a1a" stroke-width="0.2">CD8<tspan font-size="4.5" dy="-2.5">+</tspan><tspan dy="2.5"> T cells</tspan></text>
<polyline points="168.7,192.4 196.7,196.12 224.7,197.05 252.7,190.54" fill="none" stroke="#1a1a1a" stroke-width="1.2" stroke-linejoin="round"/>
<line x1="196.7" y1="197.61" x2="196.7" y2="194.63" stroke="#1a1a1a" stroke-width="1"/>
<line x1="194.2" y1="197.61" x2="199.2" y2="197.61" stroke="#1a1a1a" stroke-width="1"/>
<line x1="194.2" y1="194.63" x2="199.2" y2="194.63" stroke="#1a1a1a" stroke-width="1"/>
<line x1="224.7" y1="197.98" x2="224.7" y2="196.12" stroke="#1a1a1a" stroke-width="1"/>
<line x1="222.2" y1="197.98" x2="227.2" y2="197.98" stroke="#1a1a1a" stroke-width="1"/>
<line x1="222.2" y1="196.12" x2="227.2" y2="196.12" stroke="#1a1a1a" stroke-width="1"/>
<line x1="252.7" y1="201.7" x2="252.7" y2="179.38" stroke="#1a1a1a" stroke-width="1"/>
<line x1="250.2" y1="201.7" x2="255.2" y2="201.7" stroke="#1a1a1a" stroke-width="1"/>
<line x1="250.2" y1="179.38" x2="255.2" y2="179.38" stroke="#1a1a1a" stroke-width="1"/>
<rect x="166.9" y="190.6" width="3.6" height="3.6" fill="#fff" stroke="#1a1a1a" stroke-width="1.1"/>
<rect x="194.9" y="194.32" width="3.6" height="3.6" fill="#fff" stroke="#1a1a1a" stroke-width="1.1"/>
<rect x="222.9" y="195.25" width="3.6" height="3.6" fill="#fff" stroke="#1a1a1a" stroke-width="1.1"/>
<rect x="250.9" y="188.74" width="3.6" height="3.6" fill="#fff" stroke="#1a1a1a" stroke-width="1.1"/>
<polyline points="168.7,192.4 196.7,188.68 224.7,184.03 252.7,190.54" fill="none" stroke="#1a1a1a" stroke-width="1.2" stroke-dasharray="3,1.8" stroke-linejoin="round"/>
<line x1="196.7" y1="192.4" x2="196.7" y2="184.96" stroke="#1a1a1a" stroke-width="1"/>
<line x1="194.2" y1="192.4" x2="199.2" y2="192.4" stroke="#1a1a1a" stroke-width="1"/>
<line x1="194.2" y1="184.96" x2="199.2" y2="184.96" stroke="#1a1a1a" stroke-width="1"/>
<line x1="224.7" y1="186.82" x2="224.7" y2="181.24" stroke="#1a1a1a" stroke-width="1"/>
<line x1="222.2" y1="186.82" x2="227.2" y2="186.82" stroke="#1a1a1a" stroke-width="1"/>
<line x1="222.2" y1="181.24" x2="227.2" y2="181.24" stroke="#1a1a1a" stroke-width="1"/>
<line x1="252.7" y1="201.7" x2="252.7" y2="178.45" stroke="#1a1a1a" stroke-width="1"/>
<line x1="250.2" y1="201.7" x2="255.2" y2="201.7" stroke="#1a1a1a" stroke-width="1"/>
<line x1="250.2" y1="178.45" x2="255.2" y2="178.45" stroke="#1a1a1a" stroke-width="1"/>
<polygon points="168.7,189.53 165.83,194.56 171.58,194.56" fill="#1a1a1a"/>
<polygon points="196.7,185.81 193.83,190.84 199.58,190.84" fill="#1a1a1a"/>
<polygon points="224.7,181.16 221.83,186.19 227.58,186.19" fill="#1a1a1a"/>
<polygon points="252.7,187.66 249.83,192.7 255.58,192.7" fill="#1a1a1a"/>
<polyline points="168.7,192.4 196.7,164.5 224.7,166.36 252.7,171.01" fill="none" stroke="#1a1a1a" stroke-width="1.2" stroke-linejoin="round"/>
<line x1="196.7" y1="171.94" x2="196.7" y2="156.13" stroke="#1a1a1a" stroke-width="1"/>
<line x1="194.2" y1="171.94" x2="199.2" y2="171.94" stroke="#1a1a1a" stroke-width="1"/>
<line x1="194.2" y1="156.13" x2="199.2" y2="156.13" stroke="#1a1a1a" stroke-width="1"/>
<line x1="224.7" y1="173.8" x2="224.7" y2="158.92" stroke="#1a1a1a" stroke-width="1"/>
<line x1="222.2" y1="173.8" x2="227.2" y2="173.8" stroke="#1a1a1a" stroke-width="1"/>
<line x1="222.2" y1="158.92" x2="227.2" y2="158.92" stroke="#1a1a1a" stroke-width="1"/>
<line x1="252.7" y1="188.68" x2="252.7" y2="154.27" stroke="#1a1a1a" stroke-width="1"/>
<line x1="250.2" y1="188.68" x2="255.2" y2="188.68" stroke="#1a1a1a" stroke-width="1"/>
<line x1="250.2" y1="154.27" x2="255.2" y2="154.27" stroke="#1a1a1a" stroke-width="1"/>
<polygon points="168.7,189.4 171.7,192.4 168.7,195.4 165.7,192.4" fill="#1a1a1a"/>
<polygon points="196.7,161.5 199.7,164.5 196.7,167.5 193.7,164.5" fill="#1a1a1a"/>
<polygon points="224.7,163.36 227.7,166.36 224.7,169.36 221.7,166.36" fill="#1a1a1a"/>
<polygon points="252.7,168.01 255.7,171.01 252.7,174.01 249.7,171.01" fill="#1a1a1a"/>
<text x="196.7" y="155.8" font-size="6.8" font-weight="bold" text-anchor="middle" fill="#1a1a1a" stroke="#1a1a1a" stroke-width="0.2">***</text>
<text x="224.7" y="155.8" font-size="6.8" font-weight="bold" text-anchor="middle" fill="#1a1a1a" stroke="#1a1a1a" stroke-width="0.2">***</text>
<line x1="280.6" y1="136.3" x2="280.6" y2="211.55" stroke="#1a1a1a" stroke-width="1.3"/>
<line x1="280.1" y1="211" x2="392.8" y2="211" stroke="#1a1a1a" stroke-width="1.3"/>
<line x1="278.6" y1="211" x2="280.6" y2="211" stroke="#1a1a1a" stroke-width="0.9"/>
<text x="278" y="212.91" font-size="5.3" font-weight="bold" text-anchor="end" fill="#222" stroke="#222" stroke-width="0.2">0</text>
<line x1="278.6" y1="181.24" x2="280.6" y2="181.24" stroke="#1a1a1a" stroke-width="0.9"/>
<text x="278" y="183.15" font-size="5.3" font-weight="bold" text-anchor="end" fill="#222" stroke="#222" stroke-width="0.2">1</text>
<line x1="278.6" y1="151.48" x2="280.6" y2="151.48" stroke="#1a1a1a" stroke-width="0.9"/>
<text x="278" y="153.39" font-size="5.3" font-weight="bold" text-anchor="end" fill="#222" stroke="#222" stroke-width="0.2">2</text>
<line x1="294.6" y1="211" x2="294.6" y2="213.2" stroke="#1a1a1a" stroke-width="0.9"/>
<text x="294.6" y="219.4" font-size="5.7" font-weight="bold" text-anchor="middle" fill="#1a1a1a" stroke="#1a1a1a" stroke-width="0.2">Predose</text>
<line x1="322.6" y1="211" x2="322.6" y2="213.2" stroke="#1a1a1a" stroke-width="0.9"/>
<text x="322.6" y="219.4" font-size="5.7" font-weight="bold" text-anchor="middle" fill="#1a1a1a" stroke="#1a1a1a" stroke-width="0.2">Day 5</text>
<line x1="350.6" y1="211" x2="350.6" y2="213.2" stroke="#1a1a1a" stroke-width="0.9"/>
<text x="350.6" y="219.4" font-size="5.7" font-weight="bold" text-anchor="middle" fill="#1a1a1a" stroke="#1a1a1a" stroke-width="0.2">Day 26</text>
<line x1="378.6" y1="211" x2="378.6" y2="213.2" stroke="#1a1a1a" stroke-width="0.9"/>
<text x="378.6" y="219.4" font-size="5.7" font-weight="bold" text-anchor="middle" fill="#1a1a1a" stroke="#1a1a1a" stroke-width="0.2">Day 36</text>
<text x="335.3" y="142.8" font-size="7" font-weight="bold" text-anchor="middle" fill="#1a1a1a" stroke="#1a1a1a" stroke-width="0.2">CD4<tspan font-size="4.5" dy="-2.5">+</tspan><tspan dy="2.5"> T cells</tspan></text>
<polyline points="294.6,181.24 322.6,175.88 350.6,182.13 378.6,179.16" fill="none" stroke="#1a1a1a" stroke-width="1.2" stroke-linejoin="round"/>
<line x1="322.6" y1="179.75" x2="322.6" y2="172.31" stroke="#1a1a1a" stroke-width="1"/>
<line x1="320.1" y1="179.75" x2="325.1" y2="179.75" stroke="#1a1a1a" stroke-width="1"/>
<line x1="320.1" y1="172.31" x2="325.1" y2="172.31" stroke="#1a1a1a" stroke-width="1"/>
<line x1="350.6" y1="185.11" x2="350.6" y2="179.75" stroke="#1a1a1a" stroke-width="1"/>
<line x1="348.1" y1="185.11" x2="353.1" y2="185.11" stroke="#1a1a1a" stroke-width="1"/>
<line x1="348.1" y1="179.75" x2="353.1" y2="179.75" stroke="#1a1a1a" stroke-width="1"/>
<line x1="378.6" y1="182.73" x2="378.6" y2="176.78" stroke="#1a1a1a" stroke-width="1"/>
<line x1="376.1" y1="182.73" x2="381.1" y2="182.73" stroke="#1a1a1a" stroke-width="1"/>
<line x1="376.1" y1="176.78" x2="381.1" y2="176.78" stroke="#1a1a1a" stroke-width="1"/>
<rect x="292.8" y="179.44" width="3.6" height="3.6" fill="#fff" stroke="#1a1a1a" stroke-width="1.1"/>
<rect x="320.8" y="174.08" width="3.6" height="3.6" fill="#fff" stroke="#1a1a1a" stroke-width="1.1"/>
<rect x="348.8" y="180.33" width="3.6" height="3.6" fill="#fff" stroke="#1a1a1a" stroke-width="1.1"/>
<rect x="376.8" y="177.36" width="3.6" height="3.6" fill="#fff" stroke="#1a1a1a" stroke-width="1.1"/>
<polyline points="294.6,181.24 322.6,168.74 350.6,174.69 378.6,176.78" fill="none" stroke="#1a1a1a" stroke-width="1.2" stroke-dasharray="3,1.8" stroke-linejoin="round"/>
<line x1="322.6" y1="172.31" x2="322.6" y2="164.87" stroke="#1a1a1a" stroke-width="1"/>
<line x1="320.1" y1="172.31" x2="325.1" y2="172.31" stroke="#1a1a1a" stroke-width="1"/>
<line x1="320.1" y1="164.87" x2="325.1" y2="164.87" stroke="#1a1a1a" stroke-width="1"/>
<line x1="350.6" y1="178.26" x2="350.6" y2="170.82" stroke="#1a1a1a" stroke-width="1"/>
<line x1="348.1" y1="178.26" x2="353.1" y2="178.26" stroke="#1a1a1a" stroke-width="1"/>
<line x1="348.1" y1="170.82" x2="353.1" y2="170.82" stroke="#1a1a1a" stroke-width="1"/>
<line x1="378.6" y1="179.75" x2="378.6" y2="173.8" stroke="#1a1a1a" stroke-width="1"/>
<line x1="376.1" y1="179.75" x2="381.1" y2="179.75" stroke="#1a1a1a" stroke-width="1"/>
<line x1="376.1" y1="173.8" x2="381.1" y2="173.8" stroke="#1a1a1a" stroke-width="1"/>
<polygon points="294.6,178.37 291.73,183.4 297.48,183.4" fill="#1a1a1a"/>
<polygon points="322.6,165.87 319.73,170.9 325.48,170.9" fill="#1a1a1a"/>
<polygon points="350.6,171.82 347.73,176.85 353.48,176.85" fill="#1a1a1a"/>
<polygon points="378.6,173.9 375.73,178.93 381.48,178.93" fill="#1a1a1a"/>
<polyline points="294.6,181.24 322.6,162.79 350.6,170.82 378.6,175.88" fill="none" stroke="#1a1a1a" stroke-width="1.2" stroke-linejoin="round"/>
<line x1="322.6" y1="166.36" x2="322.6" y2="158.92" stroke="#1a1a1a" stroke-width="1"/>
<line x1="320.1" y1="166.36" x2="325.1" y2="166.36" stroke="#1a1a1a" stroke-width="1"/>
<line x1="320.1" y1="158.92" x2="325.1" y2="158.92" stroke="#1a1a1a" stroke-width="1"/>
<line x1="350.6" y1="175.29" x2="350.6" y2="167.85" stroke="#1a1a1a" stroke-width="1"/>
<line x1="348.1" y1="175.29" x2="353.1" y2="175.29" stroke="#1a1a1a" stroke-width="1"/>
<line x1="348.1" y1="167.85" x2="353.1" y2="167.85" stroke="#1a1a1a" stroke-width="1"/>
<line x1="378.6" y1="179.75" x2="378.6" y2="170.82" stroke="#1a1a1a" stroke-width="1"/>
<line x1="376.1" y1="179.75" x2="381.1" y2="179.75" stroke="#1a1a1a" stroke-width="1"/>
<line x1="376.1" y1="170.82" x2="381.1" y2="170.82" stroke="#1a1a1a" stroke-width="1"/>
<polygon points="294.6,178.24 297.6,181.24 294.6,184.24 291.6,181.24" fill="#1a1a1a"/>
<polygon points="322.6,159.79 325.6,162.79 322.6,165.79 319.6,162.79" fill="#1a1a1a"/>
<polygon points="350.6,167.82 353.6,170.82 350.6,173.82 347.6,170.82" fill="#1a1a1a"/>
<polygon points="378.6,172.88 381.6,175.88 378.6,178.88 375.6,175.88" fill="#1a1a1a"/>
<text x="322.6" y="155.8" font-size="6.8" font-weight="bold" text-anchor="middle" fill="#1a1a1a" stroke="#1a1a1a" stroke-width="0.2">**</text>
<text x="350.6" y="164.9" font-size="6.8" font-weight="bold" text-anchor="middle" fill="#1a1a1a" stroke="#1a1a1a" stroke-width="0.2">*</text>
<line x1="406.3" y1="136.3" x2="406.3" y2="211.55" stroke="#1a1a1a" stroke-width="1.3"/>
<line x1="405.8" y1="211" x2="518.5" y2="211" stroke="#1a1a1a" stroke-width="1.3"/>
<line x1="404.3" y1="211" x2="406.3" y2="211" stroke="#1a1a1a" stroke-width="0.9"/>
<text x="403.7" y="212.91" font-size="5.3" font-weight="bold" text-anchor="end" fill="#222" stroke="#222" stroke-width="0.2">0</text>
<line x1="404.3" y1="173.8" x2="406.3" y2="173.8" stroke="#1a1a1a" stroke-width="0.9"/>
<text x="403.7" y="175.71" font-size="5.3" font-weight="bold" text-anchor="end" fill="#222" stroke="#222" stroke-width="0.2">1</text>
<line x1="404.3" y1="136.6" x2="406.3" y2="136.6" stroke="#1a1a1a" stroke-width="0.9"/>
<text x="403.7" y="138.51" font-size="5.3" font-weight="bold" text-anchor="end" fill="#222" stroke="#222" stroke-width="0.2">2</text>
<line x1="420.3" y1="211" x2="420.3" y2="213.2" stroke="#1a1a1a" stroke-width="0.9"/>
<text x="420.3" y="219.4" font-size="5.7" font-weight="bold" text-anchor="middle" fill="#1a1a1a" stroke="#1a1a1a" stroke-width="0.2">Predose</text>
<line x1="448.3" y1="211" x2="448.3" y2="213.2" stroke="#1a1a1a" stroke-width="0.9"/>
<text x="448.3" y="219.4" font-size="5.7" font-weight="bold" text-anchor="middle" fill="#1a1a1a" stroke="#1a1a1a" stroke-width="0.2">Day 5</text>
<line x1="476.3" y1="211" x2="476.3" y2="213.2" stroke="#1a1a1a" stroke-width="0.9"/>
<text x="476.3" y="219.4" font-size="5.7" font-weight="bold" text-anchor="middle" fill="#1a1a1a" stroke="#1a1a1a" stroke-width="0.2">Day 26</text>
<line x1="504.3" y1="211" x2="504.3" y2="213.2" stroke="#1a1a1a" stroke-width="0.9"/>
<text x="504.3" y="219.4" font-size="5.7" font-weight="bold" text-anchor="middle" fill="#1a1a1a" stroke="#1a1a1a" stroke-width="0.2">Day 36</text>
<text x="466.8" y="144.5" font-size="7" font-weight="bold" text-anchor="middle" fill="#1a1a1a" stroke="#1a1a1a" stroke-width="0.2">CD20<tspan font-size="4.5" dy="-2.5">+</tspan><tspan dy="2.5"> B cells</tspan></text>
<polyline points="420.3,173.8 448.3,181.24 476.3,184.22 504.3,170.08" fill="none" stroke="#1a1a1a" stroke-width="1.2" stroke-linejoin="round"/>
<line x1="448.3" y1="183.84" x2="448.3" y2="178.26" stroke="#1a1a1a" stroke-width="1"/>
<line x1="445.8" y1="183.84" x2="450.8" y2="183.84" stroke="#1a1a1a" stroke-width="1"/>
<line x1="445.8" y1="178.26" x2="450.8" y2="178.26" stroke="#1a1a1a" stroke-width="1"/>
<line x1="476.3" y1="185.7" x2="476.3" y2="182.36" stroke="#1a1a1a" stroke-width="1"/>
<line x1="473.8" y1="185.7" x2="478.8" y2="185.7" stroke="#1a1a1a" stroke-width="1"/>
<line x1="473.8" y1="182.36" x2="478.8" y2="182.36" stroke="#1a1a1a" stroke-width="1"/>
<line x1="504.3" y1="173.8" x2="504.3" y2="166.36" stroke="#1a1a1a" stroke-width="1"/>
<line x1="501.8" y1="173.8" x2="506.8" y2="173.8" stroke="#1a1a1a" stroke-width="1"/>
<line x1="501.8" y1="166.36" x2="506.8" y2="166.36" stroke="#1a1a1a" stroke-width="1"/>
<rect x="418.5" y="172" width="3.6" height="3.6" fill="#fff" stroke="#1a1a1a" stroke-width="1.1"/>
<rect x="446.5" y="179.44" width="3.6" height="3.6" fill="#fff" stroke="#1a1a1a" stroke-width="1.1"/>
<rect x="474.5" y="182.42" width="3.6" height="3.6" fill="#fff" stroke="#1a1a1a" stroke-width="1.1"/>
<rect x="502.5" y="168.28" width="3.6" height="3.6" fill="#fff" stroke="#1a1a1a" stroke-width="1.1"/>
<polyline points="420.3,173.8 448.3,166.36 476.3,170.08 504.3,170.08" fill="none" stroke="#1a1a1a" stroke-width="1.2" stroke-dasharray="3,1.8" stroke-linejoin="round"/>
<line x1="448.3" y1="170.08" x2="448.3" y2="162.64" stroke="#1a1a1a" stroke-width="1"/>
<line x1="445.8" y1="170.08" x2="450.8" y2="170.08" stroke="#1a1a1a" stroke-width="1"/>
<line x1="445.8" y1="162.64" x2="450.8" y2="162.64" stroke="#1a1a1a" stroke-width="1"/>
<line x1="476.3" y1="173.8" x2="476.3" y2="167.1" stroke="#1a1a1a" stroke-width="1"/>
<line x1="473.8" y1="173.8" x2="478.8" y2="173.8" stroke="#1a1a1a" stroke-width="1"/>
<line x1="473.8" y1="167.1" x2="478.8" y2="167.1" stroke="#1a1a1a" stroke-width="1"/>
<line x1="504.3" y1="181.24" x2="504.3" y2="158.92" stroke="#1a1a1a" stroke-width="1"/>
<line x1="501.8" y1="181.24" x2="506.8" y2="181.24" stroke="#1a1a1a" stroke-width="1"/>
<line x1="501.8" y1="158.92" x2="506.8" y2="158.92" stroke="#1a1a1a" stroke-width="1"/>
<polygon points="420.3,170.93 417.43,175.96 423.18,175.96" fill="#1a1a1a"/>
<polygon points="448.3,163.49 445.43,168.52 451.18,168.52" fill="#1a1a1a"/>
<polygon points="476.3,167.2 473.43,172.24 479.18,172.24" fill="#1a1a1a"/>
<polygon points="504.3,167.2 501.43,172.24 507.18,172.24" fill="#1a1a1a"/>
<polyline points="420.3,173.8 448.3,174.92 476.3,174.92 504.3,175.66" fill="none" stroke="#1a1a1a" stroke-width="1.2" stroke-linejoin="round"/>
<line x1="448.3" y1="177.52" x2="448.3" y2="171.94" stroke="#1a1a1a" stroke-width="1"/>
<line x1="445.8" y1="177.52" x2="450.8" y2="177.52" stroke="#1a1a1a" stroke-width="1"/>
<line x1="445.8" y1="171.94" x2="450.8" y2="171.94" stroke="#1a1a1a" stroke-width="1"/>
<line x1="476.3" y1="177.52" x2="476.3" y2="171.94" stroke="#1a1a1a" stroke-width="1"/>
<line x1="473.8" y1="177.52" x2="478.8" y2="177.52" stroke="#1a1a1a" stroke-width="1"/>
<line x1="473.8" y1="171.94" x2="478.8" y2="171.94" stroke="#1a1a1a" stroke-width="1"/>
<line x1="504.3" y1="181.98" x2="504.3" y2="170.08" stroke="#1a1a1a" stroke-width="1"/>
<line x1="501.8" y1="181.98" x2="506.8" y2="181.98" stroke="#1a1a1a" stroke-width="1"/>
<line x1="501.8" y1="170.08" x2="506.8" y2="170.08" stroke="#1a1a1a" stroke-width="1"/>
<polygon points="420.3,170.8 423.3,173.8 420.3,176.8 417.3,173.8" fill="#1a1a1a"/>
<polygon points="448.3,171.92 451.3,174.92 448.3,177.92 445.3,174.92" fill="#1a1a1a"/>
<polygon points="476.3,171.92 479.3,174.92 476.3,177.92 473.3,174.92" fill="#1a1a1a"/>
<polygon points="504.3,172.66 507.3,175.66 504.3,178.66 501.3,175.66" fill="#1a1a1a"/>
<text x="449.1" y="162.3" font-size="6.8" font-weight="bold" text-anchor="middle" fill="#1a1a1a" stroke="#1a1a1a" stroke-width="0.2">***</text>
<text x="477.9" y="166.1" font-size="6.8" font-weight="bold" text-anchor="middle" fill="#1a1a1a" stroke="#1a1a1a" stroke-width="0.2">**</text>
<text x="6" y="289.4" font-size="7.2" font-weight="bold" text-anchor="middle" fill="#1a1a1a" transform="rotate(-90 6 289.4)" stroke="#1a1a1a" stroke-width="0.2">Absolute cell counts</text>
<text x="15.9" y="289.2" font-size="6.8" font-weight="bold" text-anchor="middle" fill="#1a1a1a" transform="rotate(-90 15.9 289.2)" stroke="#1a1a1a" stroke-width="0.2">(x 10<tspan font-size="4.4" dy="-2.6">3</tspan><tspan dy="2.6">/µL)</tspan></text>
<line x1="29.4" y1="253.8" x2="29.4" y2="326.85" stroke="#1a1a1a" stroke-width="1.3"/>
<line x1="28.9" y1="326.3" x2="138.3" y2="326.3" stroke="#1a1a1a" stroke-width="1.3"/>
<line x1="27.4" y1="326.3" x2="29.4" y2="326.3" stroke="#1a1a1a" stroke-width="0.9"/>
<text x="26.8" y="328.28" font-size="5.5" font-weight="bold" text-anchor="end" fill="#1a1a1a" stroke="#1a1a1a" stroke-width="0.2">0</text>
<line x1="27.4" y1="308.25" x2="29.4" y2="308.25" stroke="#1a1a1a" stroke-width="0.9"/>
<text x="26.8" y="310.23" font-size="5.5" font-weight="bold" text-anchor="end" fill="#1a1a1a" stroke="#1a1a1a" stroke-width="0.2">5</text>
<line x1="27.4" y1="290.2" x2="29.4" y2="290.2" stroke="#1a1a1a" stroke-width="0.9"/>
<text x="26.8" y="292.18" font-size="5.5" font-weight="bold" text-anchor="end" fill="#1a1a1a" stroke="#1a1a1a" stroke-width="0.2">10</text>
<line x1="27.4" y1="272.15" x2="29.4" y2="272.15" stroke="#1a1a1a" stroke-width="0.9"/>
<text x="26.8" y="274.13" font-size="5.5" font-weight="bold" text-anchor="end" fill="#1a1a1a" stroke="#1a1a1a" stroke-width="0.2">15</text>
<line x1="27.4" y1="254.1" x2="29.4" y2="254.1" stroke="#1a1a1a" stroke-width="0.9"/>
<text x="26.8" y="256.08" font-size="5.5" font-weight="bold" text-anchor="end" fill="#1a1a1a" stroke="#1a1a1a" stroke-width="0.2">20</text>
<line x1="35" y1="326.3" x2="35" y2="328.5" stroke="#1a1a1a" stroke-width="0.9"/>
<text x="35" y="333.6" font-size="5.3" font-weight="bold" text-anchor="middle" fill="#1a1a1a" stroke="#1a1a1a" stroke-width="0.2">−4</text>
<line x1="45.85" y1="326.3" x2="45.85" y2="328.5" stroke="#1a1a1a" stroke-width="0.9"/>
<text x="45.85" y="333.6" font-size="5.3" font-weight="bold" text-anchor="middle" fill="#1a1a1a" stroke="#1a1a1a" stroke-width="0.2">1</text>
<line x1="56.7" y1="326.3" x2="56.7" y2="328.5" stroke="#1a1a1a" stroke-width="0.9"/>
<text x="56.7" y="333.6" font-size="5.3" font-weight="bold" text-anchor="middle" fill="#1a1a1a" stroke="#1a1a1a" stroke-width="0.2">6</text>
<line x1="67.55" y1="326.3" x2="67.55" y2="328.5" stroke="#1a1a1a" stroke-width="0.9"/>
<text x="67.55" y="333.6" font-size="5.3" font-weight="bold" text-anchor="middle" fill="#1a1a1a" stroke="#1a1a1a" stroke-width="0.2">8</text>
<line x1="78.4" y1="326.3" x2="78.4" y2="328.5" stroke="#1a1a1a" stroke-width="0.9"/>
<text x="78.4" y="333.6" font-size="5.3" font-weight="bold" text-anchor="middle" fill="#1a1a1a" stroke="#1a1a1a" stroke-width="0.2">13</text>
<line x1="89.25" y1="326.3" x2="89.25" y2="328.5" stroke="#1a1a1a" stroke-width="0.9"/>
<text x="89.25" y="333.6" font-size="5.3" font-weight="bold" text-anchor="middle" fill="#1a1a1a" stroke="#1a1a1a" stroke-width="0.2">15</text>
<line x1="100.1" y1="326.3" x2="100.1" y2="328.5" stroke="#1a1a1a" stroke-width="0.9"/>
<text x="100.1" y="333.6" font-size="5.3" font-weight="bold" text-anchor="middle" fill="#1a1a1a" stroke="#1a1a1a" stroke-width="0.2">20</text>
<line x1="110.95" y1="326.3" x2="110.95" y2="328.5" stroke="#1a1a1a" stroke-width="0.9"/>
<text x="110.95" y="333.6" font-size="5.3" font-weight="bold" text-anchor="middle" fill="#1a1a1a" stroke="#1a1a1a" stroke-width="0.2">22</text>
<line x1="121.8" y1="326.3" x2="121.8" y2="328.5" stroke="#1a1a1a" stroke-width="0.9"/>
<text x="121.8" y="333.6" font-size="5.3" font-weight="bold" text-anchor="middle" fill="#1a1a1a" stroke="#1a1a1a" stroke-width="0.2">27</text>
<line x1="132.65" y1="326.3" x2="132.65" y2="328.5" stroke="#1a1a1a" stroke-width="0.9"/>
<text x="132.65" y="333.6" font-size="5.3" font-weight="bold" text-anchor="middle" fill="#1a1a1a" stroke="#1a1a1a" stroke-width="0.2">29</text>
<text x="78.5" y="343.9" font-size="7.2" font-weight="bold" text-anchor="middle" fill="#1a1a1a" stroke="#1a1a1a" stroke-width="0.2">Days after ALT-803</text>
<line x1="45.85" y1="318.6" x2="45.85" y2="323" stroke="#1a1a1a" stroke-width="1.4"/>
<polygon points="45.85,326.0 43.75,321.4 47.95,321.4" fill="#1a1a1a"/>
<line x1="67.55" y1="318.6" x2="67.55" y2="323" stroke="#1a1a1a" stroke-width="1.4"/>
<polygon points="67.55,326.0 65.45,321.4 69.65,321.4" fill="#1a1a1a"/>
<line x1="89.25" y1="318.6" x2="89.25" y2="323" stroke="#1a1a1a" stroke-width="1.4"/>
<polygon points="89.25,326.0 87.15,321.4 91.35,321.4" fill="#1a1a1a"/>
<line x1="110.95" y1="318.6" x2="110.95" y2="323" stroke="#1a1a1a" stroke-width="1.4"/>
<polygon points="110.95,326.0 108.85,321.4 113.05,321.4" fill="#1a1a1a"/>
<polyline points="35,295.62 45.85,292.73 56.7,279.37 67.55,279.01 78.4,282.98 89.25,280.09 100.1,267.82 110.95,282.98 121.8,275.76 132.65,274.68" fill="none" stroke="#1a1a1a" stroke-width="1.2" stroke-linejoin="round"/>
<line x1="35" y1="298.14" x2="35" y2="292.73" stroke="#1a1a1a" stroke-width="1"/>
<line x1="32.5" y1="298.14" x2="37.5" y2="298.14" stroke="#1a1a1a" stroke-width="1"/>
<line x1="32.5" y1="292.73" x2="37.5" y2="292.73" stroke="#1a1a1a" stroke-width="1"/>
<line x1="45.85" y1="296.34" x2="45.85" y2="288.03" stroke="#1a1a1a" stroke-width="1"/>
<line x1="43.35" y1="296.34" x2="48.35" y2="296.34" stroke="#1a1a1a" stroke-width="1"/>
<line x1="43.35" y1="288.03" x2="48.35" y2="288.03" stroke="#1a1a1a" stroke-width="1"/>
<line x1="56.7" y1="281.18" x2="56.7" y2="276.84" stroke="#1a1a1a" stroke-width="1"/>
<line x1="54.2" y1="281.18" x2="59.2" y2="281.18" stroke="#1a1a1a" stroke-width="1"/>
<line x1="54.2" y1="276.84" x2="59.2" y2="276.84" stroke="#1a1a1a" stroke-width="1"/>
<line x1="67.55" y1="281.18" x2="67.55" y2="276.84" stroke="#1a1a1a" stroke-width="1"/>
<line x1="65.05" y1="281.18" x2="70.05" y2="281.18" stroke="#1a1a1a" stroke-width="1"/>
<line x1="65.05" y1="276.84" x2="70.05" y2="276.84" stroke="#1a1a1a" stroke-width="1"/>
<line x1="78.4" y1="285.15" x2="78.4" y2="280.45" stroke="#1a1a1a" stroke-width="1"/>
<line x1="75.9" y1="285.15" x2="80.9" y2="285.15" stroke="#1a1a1a" stroke-width="1"/>
<line x1="75.9" y1="280.45" x2="80.9" y2="280.45" stroke="#1a1a1a" stroke-width="1"/>
<line x1="89.25" y1="293.09" x2="89.25" y2="267.46" stroke="#1a1a1a" stroke-width="1"/>
<line x1="86.75" y1="293.09" x2="91.75" y2="293.09" stroke="#1a1a1a" stroke-width="1"/>
<line x1="86.75" y1="267.46" x2="91.75" y2="267.46" stroke="#1a1a1a" stroke-width="1"/>
<line x1="100.1" y1="271.07" x2="100.1" y2="262.04" stroke="#1a1a1a" stroke-width="1"/>
<line x1="97.6" y1="271.07" x2="102.6" y2="271.07" stroke="#1a1a1a" stroke-width="1"/>
<line x1="97.6" y1="262.04" x2="102.6" y2="262.04" stroke="#1a1a1a" stroke-width="1"/>
<line x1="110.95" y1="285.15" x2="110.95" y2="280.81" stroke="#1a1a1a" stroke-width="1"/>
<line x1="108.45" y1="285.15" x2="113.45" y2="285.15" stroke="#1a1a1a" stroke-width="1"/>
<line x1="108.45" y1="280.81" x2="113.45" y2="280.81" stroke="#1a1a1a" stroke-width="1"/>
<line x1="121.8" y1="278.29" x2="121.8" y2="273.59" stroke="#1a1a1a" stroke-width="1"/>
<line x1="119.3" y1="278.29" x2="124.3" y2="278.29" stroke="#1a1a1a" stroke-width="1"/>
<line x1="119.3" y1="273.59" x2="124.3" y2="273.59" stroke="#1a1a1a" stroke-width="1"/>
<line x1="132.65" y1="281.9" x2="132.65" y2="267.1" stroke="#1a1a1a" stroke-width="1"/>
<line x1="130.15" y1="281.9" x2="135.15" y2="281.9" stroke="#1a1a1a" stroke-width="1"/>
<line x1="130.15" y1="267.1" x2="135.15" y2="267.1" stroke="#1a1a1a" stroke-width="1"/>
<rect x="32.7" y="293.31" width="4.6" height="4.6" fill="#1a1a1a"/>
<rect x="43.55" y="290.43" width="4.6" height="4.6" fill="#1a1a1a"/>
<rect x="54.4" y="277.07" width="4.6" height="4.6" fill="#1a1a1a"/>
<rect x="65.25" y="276.71" width="4.6" height="4.6" fill="#1a1a1a"/>
<rect x="76.1" y="280.68" width="4.6" height="4.6" fill="#1a1a1a"/>
<rect x="86.95" y="277.79" width="4.6" height="4.6" fill="#1a1a1a"/>
<rect x="97.8" y="265.52" width="4.6" height="4.6" fill="#1a1a1a"/>
<rect x="108.65" y="280.68" width="4.6" height="4.6" fill="#1a1a1a"/>
<rect x="119.5" y="273.46" width="4.6" height="4.6" fill="#1a1a1a"/>
<rect x="130.35" y="272.38" width="4.6" height="4.6" fill="#1a1a1a"/>
<polyline points="35,310.78 45.85,311.5 56.7,291.28 67.55,302.11 78.4,297.06 89.25,301.03 100.1,297.06 110.95,306.81 121.8,296.34 132.65,303.56" fill="none" stroke="#1a1a1a" stroke-width="1.2" stroke-linejoin="round"/>
<line x1="45.85" y1="314.03" x2="45.85" y2="308.97" stroke="#1a1a1a" stroke-width="1"/>
<line x1="43.35" y1="314.03" x2="48.35" y2="314.03" stroke="#1a1a1a" stroke-width="1"/>
<line x1="43.35" y1="308.97" x2="48.35" y2="308.97" stroke="#1a1a1a" stroke-width="1"/>
<line x1="67.55" y1="305.36" x2="67.55" y2="298.86" stroke="#1a1a1a" stroke-width="1"/>
<line x1="65.05" y1="305.36" x2="70.05" y2="305.36" stroke="#1a1a1a" stroke-width="1"/>
<line x1="65.05" y1="298.86" x2="70.05" y2="298.86" stroke="#1a1a1a" stroke-width="1"/>
<line x1="89.25" y1="304.64" x2="89.25" y2="296.34" stroke="#1a1a1a" stroke-width="1"/>
<line x1="86.75" y1="304.64" x2="91.75" y2="304.64" stroke="#1a1a1a" stroke-width="1"/>
<line x1="86.75" y1="296.34" x2="91.75" y2="296.34" stroke="#1a1a1a" stroke-width="1"/>
<line x1="121.8" y1="299.59" x2="121.8" y2="293.09" stroke="#1a1a1a" stroke-width="1"/>
<line x1="119.3" y1="299.59" x2="124.3" y2="299.59" stroke="#1a1a1a" stroke-width="1"/>
<line x1="119.3" y1="293.09" x2="124.3" y2="293.09" stroke="#1a1a1a" stroke-width="1"/>
<circle cx="35" cy="310.78" r="1.9" fill="#fff" stroke="#1a1a1a" stroke-width="1.1"/>
<circle cx="45.85" cy="311.5" r="1.9" fill="#fff" stroke="#1a1a1a" stroke-width="1.1"/>
<circle cx="56.7" cy="291.28" r="1.9" fill="#fff" stroke="#1a1a1a" stroke-width="1.1"/>
<circle cx="67.55" cy="302.11" r="1.9" fill="#fff" stroke="#1a1a1a" stroke-width="1.1"/>
<circle cx="78.4" cy="297.06" r="1.9" fill="#fff" stroke="#1a1a1a" stroke-width="1.1"/>
<circle cx="89.25" cy="301.03" r="1.9" fill="#fff" stroke="#1a1a1a" stroke-width="1.1"/>
<circle cx="100.1" cy="297.06" r="1.9" fill="#fff" stroke="#1a1a1a" stroke-width="1.1"/>
<circle cx="110.95" cy="306.81" r="1.9" fill="#fff" stroke="#1a1a1a" stroke-width="1.1"/>
<circle cx="121.8" cy="296.34" r="1.9" fill="#fff" stroke="#1a1a1a" stroke-width="1.1"/>
<circle cx="132.65" cy="303.56" r="1.9" fill="#fff" stroke="#1a1a1a" stroke-width="1.1"/>
<line x1="37.7" y1="254" x2="48" y2="254" stroke="#1a1a1a" stroke-width="1.2"/>
<rect x="40.7" y="251.8" width="4.4" height="4.4" fill="#1a1a1a"/>
<text x="49.4" y="256.6" font-size="6" font-weight="bold" text-anchor="start" fill="#1a1a1a" stroke="#1a1a1a" stroke-width="0.2">WBC</text>
<line x1="37.7" y1="262.7" x2="48" y2="262.7" stroke="#1a1a1a" stroke-width="1.2"/>
<circle cx="42.9" cy="262.7" r="1.9" fill="#fff" stroke="#1a1a1a" stroke-width="1.1"/>
<text x="49.4" y="265.2" font-size="6" font-weight="bold" text-anchor="start" fill="#1a1a1a" stroke="#1a1a1a" stroke-width="0.2">Lymphocytes</text>
<line x1="156.7" y1="253.8" x2="156.7" y2="326.85" stroke="#1a1a1a" stroke-width="1.3"/>
<line x1="156.2" y1="326.3" x2="265" y2="326.3" stroke="#1a1a1a" stroke-width="1.3"/>
<line x1="154.7" y1="326.3" x2="156.7" y2="326.3" stroke="#1a1a1a" stroke-width="0.9"/>
<text x="154.1" y="328.28" font-size="5.5" font-weight="bold" text-anchor="end" fill="#1a1a1a" stroke="#1a1a1a" stroke-width="0.2">0.0</text>
<line x1="154.7" y1="317.28" x2="156.7" y2="317.28" stroke="#1a1a1a" stroke-width="0.9"/>
<text x="154.1" y="319.26" font-size="5.5" font-weight="bold" text-anchor="end" fill="#1a1a1a" stroke="#1a1a1a" stroke-width="0.2">0.5</text>
<line x1="154.7" y1="308.25" x2="156.7" y2="308.25" stroke="#1a1a1a" stroke-width="0.9"/>
<text x="154.1" y="310.23" font-size="5.5" font-weight="bold" text-anchor="end" fill="#1a1a1a" stroke="#1a1a1a" stroke-width="0.2">1.0</text>
<line x1="154.7" y1="299.23" x2="156.7" y2="299.23" stroke="#1a1a1a" stroke-width="0.9"/>
<text x="154.1" y="301.21" font-size="5.5" font-weight="bold" text-anchor="end" fill="#1a1a1a" stroke="#1a1a1a" stroke-width="0.2">1.5</text>
<line x1="154.7" y1="290.2" x2="156.7" y2="290.2" stroke="#1a1a1a" stroke-width="0.9"/>
<text x="154.1" y="292.18" font-size="5.5" font-weight="bold" text-anchor="end" fill="#1a1a1a" stroke="#1a1a1a" stroke-width="0.2">2.0</text>
<line x1="154.7" y1="281.18" x2="156.7" y2="281.18" stroke="#1a1a1a" stroke-width="0.9"/>
<text x="154.1" y="283.16" font-size="5.5" font-weight="bold" text-anchor="end" fill="#1a1a1a" stroke="#1a1a1a" stroke-width="0.2">2.5</text>
<line x1="154.7" y1="272.15" x2="156.7" y2="272.15" stroke="#1a1a1a" stroke-width="0.9"/>
<text x="154.1" y="274.13" font-size="5.5" font-weight="bold" text-anchor="end" fill="#1a1a1a" stroke="#1a1a1a" stroke-width="0.2">3.0</text>
<line x1="154.7" y1="263.12" x2="156.7" y2="263.12" stroke="#1a1a1a" stroke-width="0.9"/>
<text x="154.1" y="265.11" font-size="5.5" font-weight="bold" text-anchor="end" fill="#1a1a1a" stroke="#1a1a1a" stroke-width="0.2">3.5</text>
<line x1="154.7" y1="254.1" x2="156.7" y2="254.1" stroke="#1a1a1a" stroke-width="0.9"/>
<text x="154.1" y="256.08" font-size="5.5" font-weight="bold" text-anchor="end" fill="#1a1a1a" stroke="#1a1a1a" stroke-width="0.2">4.0</text>
<line x1="161.9" y1="326.3" x2="161.9" y2="328.5" stroke="#1a1a1a" stroke-width="0.9"/>
<text x="161.9" y="333.6" font-size="5.3" font-weight="bold" text-anchor="middle" fill="#1a1a1a" stroke="#1a1a1a" stroke-width="0.2">−4</text>
<line x1="172.75" y1="326.3" x2="172.75" y2="328.5" stroke="#1a1a1a" stroke-width="0.9"/>
<text x="172.75" y="333.6" font-size="5.3" font-weight="bold" text-anchor="middle" fill="#1a1a1a" stroke="#1a1a1a" stroke-width="0.2">1</text>
<line x1="183.6" y1="326.3" x2="183.6" y2="328.5" stroke="#1a1a1a" stroke-width="0.9"/>
<text x="183.6" y="333.6" font-size="5.3" font-weight="bold" text-anchor="middle" fill="#1a1a1a" stroke="#1a1a1a" stroke-width="0.2">6</text>
<line x1="194.45" y1="326.3" x2="194.45" y2="328.5" stroke="#1a1a1a" stroke-width="0.9"/>
<text x="194.45" y="333.6" font-size="5.3" font-weight="bold" text-anchor="middle" fill="#1a1a1a" stroke="#1a1a1a" stroke-width="0.2">8</text>
<line x1="205.3" y1="326.3" x2="205.3" y2="328.5" stroke="#1a1a1a" stroke-width="0.9"/>
<text x="205.3" y="333.6" font-size="5.3" font-weight="bold" text-anchor="middle" fill="#1a1a1a" stroke="#1a1a1a" stroke-width="0.2">13</text>
<line x1="216.15" y1="326.3" x2="216.15" y2="328.5" stroke="#1a1a1a" stroke-width="0.9"/>
<text x="216.15" y="333.6" font-size="5.3" font-weight="bold" text-anchor="middle" fill="#1a1a1a" stroke="#1a1a1a" stroke-width="0.2">15</text>
<line x1="227" y1="326.3" x2="227" y2="328.5" stroke="#1a1a1a" stroke-width="0.9"/>
<text x="227" y="333.6" font-size="5.3" font-weight="bold" text-anchor="middle" fill="#1a1a1a" stroke="#1a1a1a" stroke-width="0.2">20</text>
<line x1="237.85" y1="326.3" x2="237.85" y2="328.5" stroke="#1a1a1a" stroke-width="0.9"/>
<text x="237.85" y="333.6" font-size="5.3" font-weight="bold" text-anchor="middle" fill="#1a1a1a" stroke="#1a1a1a" stroke-width="0.2">22</text>
<line x1="248.7" y1="326.3" x2="248.7" y2="328.5" stroke="#1a1a1a" stroke-width="0.9"/>
<text x="248.7" y="333.6" font-size="5.3" font-weight="bold" text-anchor="middle" fill="#1a1a1a" stroke="#1a1a1a" stroke-width="0.2">27</text>
<line x1="259.55" y1="326.3" x2="259.55" y2="328.5" stroke="#1a1a1a" stroke-width="0.9"/>
<text x="259.55" y="333.6" font-size="5.3" font-weight="bold" text-anchor="middle" fill="#1a1a1a" stroke="#1a1a1a" stroke-width="0.2">29</text>
<text x="212.9" y="343.9" font-size="7.2" font-weight="bold" text-anchor="middle" fill="#1a1a1a" stroke="#1a1a1a" stroke-width="0.2">Days after ALT-803</text>
<polyline points="161.9,326.3 172.75,326.3 183.6,318.18 194.45,318.18 205.3,308.61 216.15,314.57 227,310.96 237.85,313.67 248.7,310.6 259.55,313.3" fill="none" stroke="#1a1a1a" stroke-width="1.2" stroke-linejoin="round"/>
<line x1="183.6" y1="324.5" x2="183.6" y2="311.86" stroke="#1a1a1a" stroke-width="1"/>
<line x1="181.1" y1="324.5" x2="186.1" y2="324.5" stroke="#1a1a1a" stroke-width="1"/>
<line x1="181.1" y1="311.86" x2="186.1" y2="311.86" stroke="#1a1a1a" stroke-width="1"/>
<line x1="205.3" y1="310.96" x2="205.3" y2="306.08" stroke="#1a1a1a" stroke-width="1"/>
<line x1="202.8" y1="310.96" x2="207.8" y2="310.96" stroke="#1a1a1a" stroke-width="1"/>
<line x1="202.8" y1="306.08" x2="207.8" y2="306.08" stroke="#1a1a1a" stroke-width="1"/>
<line x1="216.15" y1="316.37" x2="216.15" y2="312.76" stroke="#1a1a1a" stroke-width="1"/>
<line x1="213.65" y1="316.37" x2="218.65" y2="316.37" stroke="#1a1a1a" stroke-width="1"/>
<line x1="213.65" y1="312.76" x2="218.65" y2="312.76" stroke="#1a1a1a" stroke-width="1"/>
<line x1="227" y1="312.76" x2="227" y2="309.15" stroke="#1a1a1a" stroke-width="1"/>
<line x1="224.5" y1="312.76" x2="229.5" y2="312.76" stroke="#1a1a1a" stroke-width="1"/>
<line x1="224.5" y1="309.15" x2="229.5" y2="309.15" stroke="#1a1a1a" stroke-width="1"/>
<line x1="237.85" y1="316.37" x2="237.85" y2="310.96" stroke="#1a1a1a" stroke-width="1"/>
<line x1="235.35" y1="316.37" x2="240.35" y2="316.37" stroke="#1a1a1a" stroke-width="1"/>
<line x1="235.35" y1="310.96" x2="240.35" y2="310.96" stroke="#1a1a1a" stroke-width="1"/>
<line x1="248.7" y1="313.67" x2="248.7" y2="307.35" stroke="#1a1a1a" stroke-width="1"/>
<line x1="246.2" y1="313.67" x2="251.2" y2="313.67" stroke="#1a1a1a" stroke-width="1"/>
<line x1="246.2" y1="307.35" x2="251.2" y2="307.35" stroke="#1a1a1a" stroke-width="1"/>
<line x1="259.55" y1="315.47" x2="259.55" y2="311.86" stroke="#1a1a1a" stroke-width="1"/>
<line x1="257.05" y1="315.47" x2="262.05" y2="315.47" stroke="#1a1a1a" stroke-width="1"/>
<line x1="257.05" y1="311.86" x2="262.05" y2="311.86" stroke="#1a1a1a" stroke-width="1"/>
<circle cx="161.9" cy="326.3" r="2.1" fill="#1a1a1a"/>
<circle cx="172.75" cy="326.3" r="2.1" fill="#1a1a1a"/>
<circle cx="183.6" cy="318.18" r="2.1" fill="#1a1a1a"/>
<circle cx="194.45" cy="318.18" r="2.1" fill="#1a1a1a"/>
<circle cx="205.3" cy="308.61" r="2.1" fill="#1a1a1a"/>
<circle cx="216.15" cy="314.57" r="2.1" fill="#1a1a1a"/>
<circle cx="227" cy="310.96" r="2.1" fill="#1a1a1a"/>
<circle cx="237.85" cy="313.67" r="2.1" fill="#1a1a1a"/>
<circle cx="248.7" cy="310.6" r="2.1" fill="#1a1a1a"/>
<circle cx="259.55" cy="313.3" r="2.1" fill="#1a1a1a"/>
<polyline points="161.9,317.28 172.75,318.18 183.6,313.67 194.45,304.64 205.3,301.93 216.15,301.93 227,297.42 237.85,302.83 248.7,291.1 259.55,296.52" fill="none" stroke="#1a1a1a" stroke-width="1.2" stroke-linejoin="round"/>
<line x1="172.75" y1="322.69" x2="172.75" y2="315.47" stroke="#1a1a1a" stroke-width="1"/>
<line x1="170.25" y1="322.69" x2="175.25" y2="322.69" stroke="#1a1a1a" stroke-width="1"/>
<line x1="170.25" y1="315.47" x2="175.25" y2="315.47" stroke="#1a1a1a" stroke-width="1"/>
<line x1="183.6" y1="319.98" x2="183.6" y2="305.54" stroke="#1a1a1a" stroke-width="1"/>
<line x1="181.1" y1="319.98" x2="186.1" y2="319.98" stroke="#1a1a1a" stroke-width="1"/>
<line x1="181.1" y1="305.54" x2="186.1" y2="305.54" stroke="#1a1a1a" stroke-width="1"/>
<line x1="205.3" y1="306.44" x2="205.3" y2="297.42" stroke="#1a1a1a" stroke-width="1"/>
<line x1="202.8" y1="306.44" x2="207.8" y2="306.44" stroke="#1a1a1a" stroke-width="1"/>
<line x1="202.8" y1="297.42" x2="207.8" y2="297.42" stroke="#1a1a1a" stroke-width="1"/>
<line x1="216.15" y1="303.74" x2="216.15" y2="299.23" stroke="#1a1a1a" stroke-width="1"/>
<line x1="213.65" y1="303.74" x2="218.65" y2="303.74" stroke="#1a1a1a" stroke-width="1"/>
<line x1="213.65" y1="299.23" x2="218.65" y2="299.23" stroke="#1a1a1a" stroke-width="1"/>
<line x1="227" y1="300.13" x2="227" y2="294.71" stroke="#1a1a1a" stroke-width="1"/>
<line x1="224.5" y1="300.13" x2="229.5" y2="300.13" stroke="#1a1a1a" stroke-width="1"/>
<line x1="224.5" y1="294.71" x2="229.5" y2="294.71" stroke="#1a1a1a" stroke-width="1"/>
<line x1="237.85" y1="306.44" x2="237.85" y2="299.23" stroke="#1a1a1a" stroke-width="1"/>
<line x1="235.35" y1="306.44" x2="240.35" y2="306.44" stroke="#1a1a1a" stroke-width="1"/>
<line x1="235.35" y1="299.23" x2="240.35" y2="299.23" stroke="#1a1a1a" stroke-width="1"/>
<line x1="248.7" y1="293.81" x2="248.7" y2="288.39" stroke="#1a1a1a" stroke-width="1"/>
<line x1="246.2" y1="293.81" x2="251.2" y2="293.81" stroke="#1a1a1a" stroke-width="1"/>
<line x1="246.2" y1="288.39" x2="251.2" y2="288.39" stroke="#1a1a1a" stroke-width="1"/>
<line x1="259.55" y1="301.03" x2="259.55" y2="292" stroke="#1a1a1a" stroke-width="1"/>
<line x1="257.05" y1="301.03" x2="262.05" y2="301.03" stroke="#1a1a1a" stroke-width="1"/>
<line x1="257.05" y1="292" x2="262.05" y2="292" stroke="#1a1a1a" stroke-width="1"/>
<circle cx="161.9" cy="317.28" r="1.9" fill="#fff" stroke="#1a1a1a" stroke-width="1.1"/>
<circle cx="172.75" cy="318.18" r="1.9" fill="#fff" stroke="#1a1a1a" stroke-width="1.1"/>
<circle cx="183.6" cy="313.67" r="1.9" fill="#fff" stroke="#1a1a1a" stroke-width="1.1"/>
<circle cx="194.45" cy="304.64" r="1.9" fill="#fff" stroke="#1a1a1a" stroke-width="1.1"/>
<circle cx="205.3" cy="301.93" r="1.9" fill="#fff" stroke="#1a1a1a" stroke-width="1.1"/>
<circle cx="216.15" cy="301.93" r="1.9" fill="#fff" stroke="#1a1a1a" stroke-width="1.1"/>
<circle cx="227" cy="297.42" r="1.9" fill="#fff" stroke="#1a1a1a" stroke-width="1.1"/>
<circle cx="237.85" cy="302.83" r="1.9" fill="#fff" stroke="#1a1a1a" stroke-width="1.1"/>
<circle cx="248.7" cy="291.1" r="1.9" fill="#fff" stroke="#1a1a1a" stroke-width="1.1"/>
<circle cx="259.55" cy="296.52" r="1.9" fill="#fff" stroke="#1a1a1a" stroke-width="1.1"/>
<polyline points="161.9,305.54 172.75,311.86 183.6,276.66 194.45,301.39 205.3,301.39 216.15,300.13 227,297.78 237.85,303.2 248.7,290.2 259.55,301.03" fill="none" stroke="#1a1a1a" stroke-width="1.2" stroke-linejoin="round"/>
<line x1="172.75" y1="313.67" x2="172.75" y2="307.35" stroke="#1a1a1a" stroke-width="1"/>
<line x1="170.25" y1="313.67" x2="175.25" y2="313.67" stroke="#1a1a1a" stroke-width="1"/>
<line x1="170.25" y1="307.35" x2="175.25" y2="307.35" stroke="#1a1a1a" stroke-width="1"/>
<line x1="183.6" y1="281.18" x2="183.6" y2="268.54" stroke="#1a1a1a" stroke-width="1"/>
<line x1="181.1" y1="281.18" x2="186.1" y2="281.18" stroke="#1a1a1a" stroke-width="1"/>
<line x1="181.1" y1="268.54" x2="186.1" y2="268.54" stroke="#1a1a1a" stroke-width="1"/>
<line x1="205.3" y1="306.44" x2="205.3" y2="293.81" stroke="#1a1a1a" stroke-width="1"/>
<line x1="202.8" y1="306.44" x2="207.8" y2="306.44" stroke="#1a1a1a" stroke-width="1"/>
<line x1="202.8" y1="293.81" x2="207.8" y2="293.81" stroke="#1a1a1a" stroke-width="1"/>
<line x1="216.15" y1="302.83" x2="216.15" y2="296.52" stroke="#1a1a1a" stroke-width="1"/>
<line x1="213.65" y1="302.83" x2="218.65" y2="302.83" stroke="#1a1a1a" stroke-width="1"/>
<line x1="213.65" y1="296.52" x2="218.65" y2="296.52" stroke="#1a1a1a" stroke-width="1"/>
<line x1="227" y1="300.13" x2="227" y2="292.91" stroke="#1a1a1a" stroke-width="1"/>
<line x1="224.5" y1="300.13" x2="229.5" y2="300.13" stroke="#1a1a1a" stroke-width="1"/>
<line x1="224.5" y1="292.91" x2="229.5" y2="292.91" stroke="#1a1a1a" stroke-width="1"/>
<line x1="237.85" y1="307.35" x2="237.85" y2="296.52" stroke="#1a1a1a" stroke-width="1"/>
<line x1="235.35" y1="307.35" x2="240.35" y2="307.35" stroke="#1a1a1a" stroke-width="1"/>
<line x1="235.35" y1="296.52" x2="240.35" y2="296.52" stroke="#1a1a1a" stroke-width="1"/>
<line x1="248.7" y1="292.91" x2="248.7" y2="286.59" stroke="#1a1a1a" stroke-width="1"/>
<line x1="246.2" y1="292.91" x2="251.2" y2="292.91" stroke="#1a1a1a" stroke-width="1"/>
<line x1="246.2" y1="286.59" x2="251.2" y2="286.59" stroke="#1a1a1a" stroke-width="1"/>
<line x1="259.55" y1="303.74" x2="259.55" y2="291.1" stroke="#1a1a1a" stroke-width="1"/>
<line x1="257.05" y1="303.74" x2="262.05" y2="303.74" stroke="#1a1a1a" stroke-width="1"/>
<line x1="257.05" y1="291.1" x2="262.05" y2="291.1" stroke="#1a1a1a" stroke-width="1"/>
<polygon points="161.9,302.9 159.25,307.53 164.55,307.53" fill="#1a1a1a"/>
<polygon points="172.75,309.22 170.1,313.84 175.4,313.84" fill="#1a1a1a"/>
<polygon points="183.6,274.02 180.95,278.65 186.25,278.65" fill="#1a1a1a"/>
<polygon points="194.45,298.75 191.8,303.37 197.09,303.37" fill="#1a1a1a"/>
<polygon points="205.3,298.75 202.66,303.37 207.95,303.37" fill="#1a1a1a"/>
<polygon points="216.15,297.48 213.5,302.11 218.8,302.11" fill="#1a1a1a"/>
<polygon points="227,295.14 224.35,299.76 229.65,299.76" fill="#1a1a1a"/>
<polygon points="237.85,300.55 235.21,305.18 240.5,305.18" fill="#1a1a1a"/>
<polygon points="248.7,287.56 246.05,292.18 251.34,292.18" fill="#1a1a1a"/>
<polygon points="259.55,298.39 256.91,303.01 262.19,303.01" fill="#1a1a1a"/>
<line x1="205.6" y1="260" x2="215.8" y2="260" stroke="#1a1a1a" stroke-width="1.1"/>
<polygon points="210.7,257.36 208.05,261.98 213.34,261.98" fill="#1a1a1a"/>
<text x="217.8" y="262.3" font-size="6.2" font-weight="normal" text-anchor="start" fill="#1a1a1a" stroke="#1a1a1a" stroke-width="0.22">CD4<tspan font-size="4.0" dy="-2.4">+</tspan><tspan dy="2.4"> T cells</tspan></text>
<line x1="205.6" y1="267.6" x2="215.8" y2="267.6" stroke="#1a1a1a" stroke-width="1.1"/>
<circle cx="210.7" cy="267.6" r="1.8" fill="#fff" stroke="#1a1a1a" stroke-width="1.1"/>
<text x="217.8" y="269.9" font-size="6.2" font-weight="normal" text-anchor="start" fill="#1a1a1a" stroke="#1a1a1a" stroke-width="0.22">CD8<tspan font-size="4.0" dy="-2.4">+</tspan><tspan dy="2.4"> T cells</tspan></text>
<line x1="205.6" y1="276.3" x2="215.8" y2="276.3" stroke="#1a1a1a" stroke-width="1.1"/>
<circle cx="210.7" cy="276.3" r="2" fill="#1a1a1a"/>
<text x="217.8" y="278.6" font-size="6.2" font-weight="normal" text-anchor="start" fill="#1a1a1a" stroke="#1a1a1a" stroke-width="0.22">CD16<tspan font-size="4.0" dy="-2.4">+</tspan><tspan dy="2.4"> NK cells</tspan></text>
<line x1="282.8" y1="253.8" x2="282.8" y2="326.85" stroke="#1a1a1a" stroke-width="1.3"/>
<line x1="282.3" y1="326.3" x2="391" y2="326.3" stroke="#1a1a1a" stroke-width="1.3"/>
<line x1="280.8" y1="326.3" x2="282.8" y2="326.3" stroke="#1a1a1a" stroke-width="0.9"/>
<text x="280.2" y="328.28" font-size="5.5" font-weight="bold" text-anchor="end" fill="#1a1a1a" stroke="#1a1a1a" stroke-width="0.2">0.0</text>
<line x1="280.8" y1="308.25" x2="282.8" y2="308.25" stroke="#1a1a1a" stroke-width="0.9"/>
<text x="280.2" y="310.23" font-size="5.5" font-weight="bold" text-anchor="end" fill="#1a1a1a" stroke="#1a1a1a" stroke-width="0.2">0.5</text>
<line x1="280.8" y1="290.2" x2="282.8" y2="290.2" stroke="#1a1a1a" stroke-width="0.9"/>
<text x="280.2" y="292.18" font-size="5.5" font-weight="bold" text-anchor="end" fill="#1a1a1a" stroke="#1a1a1a" stroke-width="0.2">1.0</text>
<line x1="280.8" y1="272.15" x2="282.8" y2="272.15" stroke="#1a1a1a" stroke-width="0.9"/>
<text x="280.2" y="274.13" font-size="5.5" font-weight="bold" text-anchor="end" fill="#1a1a1a" stroke="#1a1a1a" stroke-width="0.2">1.5</text>
<line x1="280.8" y1="254.1" x2="282.8" y2="254.1" stroke="#1a1a1a" stroke-width="0.9"/>
<text x="280.2" y="256.08" font-size="5.5" font-weight="bold" text-anchor="end" fill="#1a1a1a" stroke="#1a1a1a" stroke-width="0.2">2.0</text>
<line x1="288.2" y1="326.3" x2="288.2" y2="328.5" stroke="#1a1a1a" stroke-width="0.9"/>
<text x="288.2" y="333.6" font-size="5.3" font-weight="bold" text-anchor="middle" fill="#1a1a1a" stroke="#1a1a1a" stroke-width="0.2">−4</text>
<line x1="299.07" y1="326.3" x2="299.07" y2="328.5" stroke="#1a1a1a" stroke-width="0.9"/>
<text x="299.07" y="333.6" font-size="5.3" font-weight="bold" text-anchor="middle" fill="#1a1a1a" stroke="#1a1a1a" stroke-width="0.2">1</text>
<line x1="309.94" y1="326.3" x2="309.94" y2="328.5" stroke="#1a1a1a" stroke-width="0.9"/>
<text x="309.94" y="333.6" font-size="5.3" font-weight="bold" text-anchor="middle" fill="#1a1a1a" stroke="#1a1a1a" stroke-width="0.2">6</text>
<line x1="320.81" y1="326.3" x2="320.81" y2="328.5" stroke="#1a1a1a" stroke-width="0.9"/>
<text x="320.81" y="333.6" font-size="5.3" font-weight="bold" text-anchor="middle" fill="#1a1a1a" stroke="#1a1a1a" stroke-width="0.2">8</text>
<line x1="331.68" y1="326.3" x2="331.68" y2="328.5" stroke="#1a1a1a" stroke-width="0.9"/>
<text x="331.68" y="333.6" font-size="5.3" font-weight="bold" text-anchor="middle" fill="#1a1a1a" stroke="#1a1a1a" stroke-width="0.2">13</text>
<line x1="342.55" y1="326.3" x2="342.55" y2="328.5" stroke="#1a1a1a" stroke-width="0.9"/>
<text x="342.55" y="333.6" font-size="5.3" font-weight="bold" text-anchor="middle" fill="#1a1a1a" stroke="#1a1a1a" stroke-width="0.2">15</text>
<line x1="353.42" y1="326.3" x2="353.42" y2="328.5" stroke="#1a1a1a" stroke-width="0.9"/>
<text x="353.42" y="333.6" font-size="5.3" font-weight="bold" text-anchor="middle" fill="#1a1a1a" stroke="#1a1a1a" stroke-width="0.2">20</text>
<line x1="364.29" y1="326.3" x2="364.29" y2="328.5" stroke="#1a1a1a" stroke-width="0.9"/>
<text x="364.29" y="333.6" font-size="5.3" font-weight="bold" text-anchor="middle" fill="#1a1a1a" stroke="#1a1a1a" stroke-width="0.2">22</text>
<line x1="375.16" y1="326.3" x2="375.16" y2="328.5" stroke="#1a1a1a" stroke-width="0.9"/>
<text x="375.16" y="333.6" font-size="5.3" font-weight="bold" text-anchor="middle" fill="#1a1a1a" stroke="#1a1a1a" stroke-width="0.2">27</text>
<line x1="386.03" y1="326.3" x2="386.03" y2="328.5" stroke="#1a1a1a" stroke-width="0.9"/>
<text x="386.03" y="333.6" font-size="5.3" font-weight="bold" text-anchor="middle" fill="#1a1a1a" stroke="#1a1a1a" stroke-width="0.2">29</text>
<text x="336.8" y="244.7" font-size="7" font-weight="bold" text-anchor="middle" fill="#1a1a1a" stroke="#1a1a1a" stroke-width="0.2">CD8 T-cell phenotype</text>
<text x="338.5" y="343.9" font-size="7.2" font-weight="bold" text-anchor="middle" fill="#1a1a1a" stroke="#1a1a1a" stroke-width="0.2">Days after ALT-803</text>
<polyline points="288.2,324.5 299.07,324.5 309.94,322.69 320.81,323.77 331.68,323.41 342.55,322.69 353.42,316.55 364.29,314.75 375.16,309.33 386.03,316.91" fill="none" stroke="#1a1a1a" stroke-width="1.2" stroke-linejoin="round"/>
<line x1="309.94" y1="325.58" x2="309.94" y2="320.88" stroke="#1a1a1a" stroke-width="1"/>
<line x1="307.44" y1="325.58" x2="312.44" y2="325.58" stroke="#1a1a1a" stroke-width="1"/>
<line x1="307.44" y1="320.88" x2="312.44" y2="320.88" stroke="#1a1a1a" stroke-width="1"/>
<line x1="342.55" y1="325.22" x2="342.55" y2="320.88" stroke="#1a1a1a" stroke-width="1"/>
<line x1="340.05" y1="325.22" x2="345.05" y2="325.22" stroke="#1a1a1a" stroke-width="1"/>
<line x1="340.05" y1="320.88" x2="345.05" y2="320.88" stroke="#1a1a1a" stroke-width="1"/>
<line x1="353.42" y1="319.08" x2="353.42" y2="313.67" stroke="#1a1a1a" stroke-width="1"/>
<line x1="350.92" y1="319.08" x2="355.92" y2="319.08" stroke="#1a1a1a" stroke-width="1"/>
<line x1="350.92" y1="313.67" x2="355.92" y2="313.67" stroke="#1a1a1a" stroke-width="1"/>
<line x1="364.29" y1="317.28" x2="364.29" y2="310.06" stroke="#1a1a1a" stroke-width="1"/>
<line x1="361.79" y1="317.28" x2="366.79" y2="317.28" stroke="#1a1a1a" stroke-width="1"/>
<line x1="361.79" y1="310.06" x2="366.79" y2="310.06" stroke="#1a1a1a" stroke-width="1"/>
<line x1="375.16" y1="313.67" x2="375.16" y2="304.64" stroke="#1a1a1a" stroke-width="1"/>
<line x1="372.66" y1="313.67" x2="377.66" y2="313.67" stroke="#1a1a1a" stroke-width="1"/>
<line x1="372.66" y1="304.64" x2="377.66" y2="304.64" stroke="#1a1a1a" stroke-width="1"/>
<line x1="386.03" y1="319.08" x2="386.03" y2="313.67" stroke="#1a1a1a" stroke-width="1"/>
<line x1="383.53" y1="319.08" x2="388.53" y2="319.08" stroke="#1a1a1a" stroke-width="1"/>
<line x1="383.53" y1="313.67" x2="388.53" y2="313.67" stroke="#1a1a1a" stroke-width="1"/>
<rect x="286.4" y="322.69" width="3.6" height="3.6" fill="#fff" stroke="#1a1a1a" stroke-width="1.1"/>
<rect x="297.27" y="322.69" width="3.6" height="3.6" fill="#fff" stroke="#1a1a1a" stroke-width="1.1"/>
<rect x="308.14" y="320.89" width="3.6" height="3.6" fill="#fff" stroke="#1a1a1a" stroke-width="1.1"/>
<rect x="319.01" y="321.97" width="3.6" height="3.6" fill="#fff" stroke="#1a1a1a" stroke-width="1.1"/>
<rect x="329.88" y="321.61" width="3.6" height="3.6" fill="#fff" stroke="#1a1a1a" stroke-width="1.1"/>
<rect x="340.75" y="320.89" width="3.6" height="3.6" fill="#fff" stroke="#1a1a1a" stroke-width="1.1"/>
<rect x="351.62" y="314.75" width="3.6" height="3.6" fill="#fff" stroke="#1a1a1a" stroke-width="1.1"/>
<rect x="362.49" y="312.95" width="3.6" height="3.6" fill="#fff" stroke="#1a1a1a" stroke-width="1.1"/>
<rect x="373.36" y="307.53" width="3.6" height="3.6" fill="#fff" stroke="#1a1a1a" stroke-width="1.1"/>
<rect x="384.23" y="315.11" width="3.6" height="3.6" fill="#fff" stroke="#1a1a1a" stroke-width="1.1"/>
<polyline points="288.2,325.58 299.07,324.5 309.94,313.67 320.81,319.8 331.68,315.11 342.55,317.28 353.42,314.75 364.29,320.88 375.16,308.61 386.03,312.94" fill="none" stroke="#1a1a1a" stroke-width="1.2" stroke-linejoin="round"/>
<line x1="309.94" y1="322.69" x2="309.94" y2="304.64" stroke="#1a1a1a" stroke-width="1"/>
<line x1="307.44" y1="322.69" x2="312.44" y2="322.69" stroke="#1a1a1a" stroke-width="1"/>
<line x1="307.44" y1="304.64" x2="312.44" y2="304.64" stroke="#1a1a1a" stroke-width="1"/>
<line x1="320.81" y1="322.69" x2="320.81" y2="317.28" stroke="#1a1a1a" stroke-width="1"/>
<line x1="318.31" y1="322.69" x2="323.31" y2="322.69" stroke="#1a1a1a" stroke-width="1"/>
<line x1="318.31" y1="317.28" x2="323.31" y2="317.28" stroke="#1a1a1a" stroke-width="1"/>
<line x1="342.55" y1="322.69" x2="342.55" y2="315.47" stroke="#1a1a1a" stroke-width="1"/>
<line x1="340.05" y1="322.69" x2="345.05" y2="322.69" stroke="#1a1a1a" stroke-width="1"/>
<line x1="340.05" y1="315.47" x2="345.05" y2="315.47" stroke="#1a1a1a" stroke-width="1"/>
<line x1="353.42" y1="318.36" x2="353.42" y2="311.14" stroke="#1a1a1a" stroke-width="1"/>
<line x1="350.92" y1="318.36" x2="355.92" y2="318.36" stroke="#1a1a1a" stroke-width="1"/>
<line x1="350.92" y1="311.14" x2="355.92" y2="311.14" stroke="#1a1a1a" stroke-width="1"/>
<line x1="364.29" y1="324.86" x2="364.29" y2="316.19" stroke="#1a1a1a" stroke-width="1"/>
<line x1="361.79" y1="324.86" x2="366.79" y2="324.86" stroke="#1a1a1a" stroke-width="1"/>
<line x1="361.79" y1="316.19" x2="366.79" y2="316.19" stroke="#1a1a1a" stroke-width="1"/>
<line x1="375.16" y1="315.47" x2="375.16" y2="302.83" stroke="#1a1a1a" stroke-width="1"/>
<line x1="372.66" y1="315.47" x2="377.66" y2="315.47" stroke="#1a1a1a" stroke-width="1"/>
<line x1="372.66" y1="302.83" x2="377.66" y2="302.83" stroke="#1a1a1a" stroke-width="1"/>
<line x1="386.03" y1="315.47" x2="386.03" y2="310.06" stroke="#1a1a1a" stroke-width="1"/>
<line x1="383.53" y1="315.47" x2="388.53" y2="315.47" stroke="#1a1a1a" stroke-width="1"/>
<line x1="383.53" y1="310.06" x2="388.53" y2="310.06" stroke="#1a1a1a" stroke-width="1"/>
<polygon points="288.2,322.58 291.2,325.58 288.2,328.58 285.2,325.58" fill="#1a1a1a"/>
<polygon points="299.07,321.5 302.07,324.5 299.07,327.5 296.07,324.5" fill="#1a1a1a"/>
<polygon points="309.94,310.67 312.94,313.67 309.94,316.67 306.94,313.67" fill="#1a1a1a"/>
<polygon points="320.81,316.8 323.81,319.8 320.81,322.8 317.81,319.8" fill="#1a1a1a"/>
<polygon points="331.68,312.11 334.68,315.11 331.68,318.11 328.68,315.11" fill="#1a1a1a"/>
<polygon points="342.55,314.28 345.55,317.28 342.55,320.28 339.55,317.28" fill="#1a1a1a"/>
<polygon points="353.42,311.75 356.42,314.75 353.42,317.75 350.42,314.75" fill="#1a1a1a"/>
<polygon points="364.29,317.88 367.29,320.88 364.29,323.88 361.29,320.88" fill="#1a1a1a"/>
<polygon points="375.16,305.61 378.16,308.61 375.16,311.61 372.16,308.61" fill="#1a1a1a"/>
<polygon points="386.03,309.94 389.03,312.94 386.03,315.94 383.03,312.94" fill="#1a1a1a"/>
<polyline points="288.2,324.5 299.07,322.69 309.94,294.89 320.81,304.64 331.68,304.64 342.55,300.31 353.42,292.73 364.29,300.31 375.16,290.92 386.03,292" fill="none" stroke="#1a1a1a" stroke-width="1.2" stroke-linejoin="round"/>
<line x1="309.94" y1="313.67" x2="309.94" y2="275.76" stroke="#1a1a1a" stroke-width="1"/>
<line x1="307.44" y1="313.67" x2="312.44" y2="313.67" stroke="#1a1a1a" stroke-width="1"/>
<line x1="307.44" y1="275.76" x2="312.44" y2="275.76" stroke="#1a1a1a" stroke-width="1"/>
<line x1="320.81" y1="306.44" x2="320.81" y2="302.11" stroke="#1a1a1a" stroke-width="1"/>
<line x1="318.31" y1="306.44" x2="323.31" y2="306.44" stroke="#1a1a1a" stroke-width="1"/>
<line x1="318.31" y1="302.11" x2="323.31" y2="302.11" stroke="#1a1a1a" stroke-width="1"/>
<line x1="331.68" y1="308.97" x2="331.68" y2="299.23" stroke="#1a1a1a" stroke-width="1"/>
<line x1="329.18" y1="308.97" x2="334.18" y2="308.97" stroke="#1a1a1a" stroke-width="1"/>
<line x1="329.18" y1="299.23" x2="334.18" y2="299.23" stroke="#1a1a1a" stroke-width="1"/>
<line x1="342.55" y1="303.56" x2="342.55" y2="297.42" stroke="#1a1a1a" stroke-width="1"/>
<line x1="340.05" y1="303.56" x2="345.05" y2="303.56" stroke="#1a1a1a" stroke-width="1"/>
<line x1="340.05" y1="297.42" x2="345.05" y2="297.42" stroke="#1a1a1a" stroke-width="1"/>
<line x1="353.42" y1="306.44" x2="353.42" y2="278.65" stroke="#1a1a1a" stroke-width="1"/>
<line x1="350.92" y1="306.44" x2="355.92" y2="306.44" stroke="#1a1a1a" stroke-width="1"/>
<line x1="350.92" y1="278.65" x2="355.92" y2="278.65" stroke="#1a1a1a" stroke-width="1"/>
<line x1="364.29" y1="301.75" x2="364.29" y2="299.23" stroke="#1a1a1a" stroke-width="1"/>
<line x1="361.79" y1="301.75" x2="366.79" y2="301.75" stroke="#1a1a1a" stroke-width="1"/>
<line x1="361.79" y1="299.23" x2="366.79" y2="299.23" stroke="#1a1a1a" stroke-width="1"/>
<line x1="375.16" y1="304.64" x2="375.16" y2="279.37" stroke="#1a1a1a" stroke-width="1"/>
<line x1="372.66" y1="304.64" x2="377.66" y2="304.64" stroke="#1a1a1a" stroke-width="1"/>
<line x1="372.66" y1="279.37" x2="377.66" y2="279.37" stroke="#1a1a1a" stroke-width="1"/>
<line x1="386.03" y1="304.64" x2="386.03" y2="279.37" stroke="#1a1a1a" stroke-width="1"/>
<line x1="383.53" y1="304.64" x2="388.53" y2="304.64" stroke="#1a1a1a" stroke-width="1"/>
<line x1="383.53" y1="279.37" x2="388.53" y2="279.37" stroke="#1a1a1a" stroke-width="1"/>
<polygon points="288.2,322.13 285.94,326.17 290.46,326.17" fill="#fff" stroke="#1a1a1a" stroke-width="1"/>
<polygon points="299.07,320.33 296.81,324.36 301.33,324.36" fill="#fff" stroke="#1a1a1a" stroke-width="1"/>
<polygon points="309.94,292.53 307.68,296.56 312.2,296.56" fill="#fff" stroke="#1a1a1a" stroke-width="1"/>
<polygon points="320.81,302.28 318.55,306.31 323.07,306.31" fill="#fff" stroke="#1a1a1a" stroke-width="1"/>
<polygon points="331.68,302.28 329.42,306.31 333.94,306.31" fill="#fff" stroke="#1a1a1a" stroke-width="1"/>
<polygon points="342.55,297.95 340.29,301.98 344.81,301.98" fill="#fff" stroke="#1a1a1a" stroke-width="1"/>
<polygon points="353.42,290.37 351.16,294.4 355.68,294.4" fill="#fff" stroke="#1a1a1a" stroke-width="1"/>
<polygon points="364.29,297.95 362.03,301.98 366.55,301.98" fill="#fff" stroke="#1a1a1a" stroke-width="1"/>
<polygon points="375.16,288.56 372.9,292.59 377.42,292.59" fill="#fff" stroke="#1a1a1a" stroke-width="1"/>
<polygon points="386.03,289.64 383.77,293.68 388.29,293.68" fill="#fff" stroke="#1a1a1a" stroke-width="1"/>
<line x1="360.3" y1="254" x2="370.3" y2="254" stroke="#1a1a1a" stroke-width="1.1"/>
<rect x="363.68" y="252.38" width="3.23" height="3.23" fill="#fff" stroke="#1a1a1a" stroke-width="1.1"/>
<text x="372.1" y="256.1" font-size="6.1" font-weight="normal" text-anchor="start" fill="#1a1a1a" stroke="#1a1a1a" stroke-width="0.22">Naive</text>
<line x1="360.3" y1="262.6" x2="370.3" y2="262.6" stroke="#1a1a1a" stroke-width="1.1"/>
<polygon points="365.3,260.26 367.64,262.6 365.3,264.94 362.96,262.6" fill="#1a1a1a"/>
<text x="372.1" y="264.7" font-size="6.1" font-weight="normal" text-anchor="start" fill="#1a1a1a" stroke="#1a1a1a" stroke-width="0.22">CM</text>
<line x1="360.3" y1="270.6" x2="370.3" y2="270.6" stroke="#1a1a1a" stroke-width="1.1"/>
<polygon points="365.3,268.01 362.81,272.44 367.79,272.44" fill="#fff" stroke="#1a1a1a" stroke-width="1"/>
<text x="372.1" y="272.7" font-size="6.1" font-weight="normal" text-anchor="start" fill="#1a1a1a" stroke="#1a1a1a" stroke-width="0.22">EM</text>
<line x1="408.9" y1="253.8" x2="408.9" y2="326.85" stroke="#1a1a1a" stroke-width="1.3"/>
<line x1="408.4" y1="326.3" x2="517" y2="326.3" stroke="#1a1a1a" stroke-width="1.3"/>
<line x1="406.9" y1="326.3" x2="408.9" y2="326.3" stroke="#1a1a1a" stroke-width="0.9"/>
<text x="406.3" y="328.28" font-size="5.5" font-weight="bold" text-anchor="end" fill="#1a1a1a" stroke="#1a1a1a" stroke-width="0.2">0.0</text>
<line x1="406.9" y1="302.23" x2="408.9" y2="302.23" stroke="#1a1a1a" stroke-width="0.9"/>
<text x="406.3" y="304.21" font-size="5.5" font-weight="bold" text-anchor="end" fill="#1a1a1a" stroke="#1a1a1a" stroke-width="0.2">0.5</text>
<line x1="406.9" y1="278.17" x2="408.9" y2="278.17" stroke="#1a1a1a" stroke-width="0.9"/>
<text x="406.3" y="280.15" font-size="5.5" font-weight="bold" text-anchor="end" fill="#1a1a1a" stroke="#1a1a1a" stroke-width="0.2">1.0</text>
<line x1="406.9" y1="254.1" x2="408.9" y2="254.1" stroke="#1a1a1a" stroke-width="0.9"/>
<text x="406.3" y="256.08" font-size="5.5" font-weight="bold" text-anchor="end" fill="#1a1a1a" stroke="#1a1a1a" stroke-width="0.2">1.5</text>
<line x1="414.2" y1="326.3" x2="414.2" y2="328.5" stroke="#1a1a1a" stroke-width="0.9"/>
<text x="414.2" y="333.6" font-size="5.3" font-weight="bold" text-anchor="middle" fill="#1a1a1a" stroke="#1a1a1a" stroke-width="0.2">−4</text>
<line x1="425.07" y1="326.3" x2="425.07" y2="328.5" stroke="#1a1a1a" stroke-width="0.9"/>
<text x="425.07" y="333.6" font-size="5.3" font-weight="bold" text-anchor="middle" fill="#1a1a1a" stroke="#1a1a1a" stroke-width="0.2">1</text>
<line x1="435.94" y1="326.3" x2="435.94" y2="328.5" stroke="#1a1a1a" stroke-width="0.9"/>
<text x="435.94" y="333.6" font-size="5.3" font-weight="bold" text-anchor="middle" fill="#1a1a1a" stroke="#1a1a1a" stroke-width="0.2">6</text>
<line x1="446.81" y1="326.3" x2="446.81" y2="328.5" stroke="#1a1a1a" stroke-width="0.9"/>
<text x="446.81" y="333.6" font-size="5.3" font-weight="bold" text-anchor="middle" fill="#1a1a1a" stroke="#1a1a1a" stroke-width="0.2">8</text>
<line x1="457.68" y1="326.3" x2="457.68" y2="328.5" stroke="#1a1a1a" stroke-width="0.9"/>
<text x="457.68" y="333.6" font-size="5.3" font-weight="bold" text-anchor="middle" fill="#1a1a1a" stroke="#1a1a1a" stroke-width="0.2">13</text>
<line x1="468.55" y1="326.3" x2="468.55" y2="328.5" stroke="#1a1a1a" stroke-width="0.9"/>
<text x="468.55" y="333.6" font-size="5.3" font-weight="bold" text-anchor="middle" fill="#1a1a1a" stroke="#1a1a1a" stroke-width="0.2">15</text>
<line x1="479.42" y1="326.3" x2="479.42" y2="328.5" stroke="#1a1a1a" stroke-width="0.9"/>
<text x="479.42" y="333.6" font-size="5.3" font-weight="bold" text-anchor="middle" fill="#1a1a1a" stroke="#1a1a1a" stroke-width="0.2">20</text>
<line x1="490.29" y1="326.3" x2="490.29" y2="328.5" stroke="#1a1a1a" stroke-width="0.9"/>
<text x="490.29" y="333.6" font-size="5.3" font-weight="bold" text-anchor="middle" fill="#1a1a1a" stroke="#1a1a1a" stroke-width="0.2">22</text>
<line x1="501.16" y1="326.3" x2="501.16" y2="328.5" stroke="#1a1a1a" stroke-width="0.9"/>
<text x="501.16" y="333.6" font-size="5.3" font-weight="bold" text-anchor="middle" fill="#1a1a1a" stroke="#1a1a1a" stroke-width="0.2">27</text>
<line x1="512.03" y1="326.3" x2="512.03" y2="328.5" stroke="#1a1a1a" stroke-width="0.9"/>
<text x="512.03" y="333.6" font-size="5.3" font-weight="bold" text-anchor="middle" fill="#1a1a1a" stroke="#1a1a1a" stroke-width="0.2">29</text>
<text x="462.9" y="244.7" font-size="7" font-weight="bold" text-anchor="middle" fill="#1a1a1a" stroke="#1a1a1a" stroke-width="0.2">CD4 T-cell phenotype</text>
<text x="464.4" y="343.9" font-size="7.2" font-weight="bold" text-anchor="middle" fill="#1a1a1a" stroke="#1a1a1a" stroke-width="0.2">Days after ALT-803</text>
<polyline points="414.2,323.41 425.07,321.49 435.94,306.08 446.81,308.01 457.68,309.45 468.55,305.6 479.42,303.68 490.29,307.05 501.16,293.57 512.03,306.08" fill="none" stroke="#1a1a1a" stroke-width="1.2" stroke-linejoin="round"/>
<line x1="435.94" y1="309.45" x2="435.94" y2="302.23" stroke="#1a1a1a" stroke-width="1"/>
<line x1="433.44" y1="309.45" x2="438.44" y2="309.45" stroke="#1a1a1a" stroke-width="1"/>
<line x1="433.44" y1="302.23" x2="438.44" y2="302.23" stroke="#1a1a1a" stroke-width="1"/>
<line x1="446.81" y1="310.42" x2="446.81" y2="305.6" stroke="#1a1a1a" stroke-width="1"/>
<line x1="444.31" y1="310.42" x2="449.31" y2="310.42" stroke="#1a1a1a" stroke-width="1"/>
<line x1="444.31" y1="305.6" x2="449.31" y2="305.6" stroke="#1a1a1a" stroke-width="1"/>
<line x1="457.68" y1="311.86" x2="457.68" y2="307.05" stroke="#1a1a1a" stroke-width="1"/>
<line x1="455.18" y1="311.86" x2="460.18" y2="311.86" stroke="#1a1a1a" stroke-width="1"/>
<line x1="455.18" y1="307.05" x2="460.18" y2="307.05" stroke="#1a1a1a" stroke-width="1"/>
<line x1="468.55" y1="309.45" x2="468.55" y2="302.23" stroke="#1a1a1a" stroke-width="1"/>
<line x1="466.05" y1="309.45" x2="471.05" y2="309.45" stroke="#1a1a1a" stroke-width="1"/>
<line x1="466.05" y1="302.23" x2="471.05" y2="302.23" stroke="#1a1a1a" stroke-width="1"/>
<line x1="479.42" y1="307.05" x2="479.42" y2="299.83" stroke="#1a1a1a" stroke-width="1"/>
<line x1="476.92" y1="307.05" x2="481.92" y2="307.05" stroke="#1a1a1a" stroke-width="1"/>
<line x1="476.92" y1="299.83" x2="481.92" y2="299.83" stroke="#1a1a1a" stroke-width="1"/>
<line x1="490.29" y1="310.42" x2="490.29" y2="303.68" stroke="#1a1a1a" stroke-width="1"/>
<line x1="487.79" y1="310.42" x2="492.79" y2="310.42" stroke="#1a1a1a" stroke-width="1"/>
<line x1="487.79" y1="303.68" x2="492.79" y2="303.68" stroke="#1a1a1a" stroke-width="1"/>
<line x1="501.16" y1="297.42" x2="501.16" y2="290.2" stroke="#1a1a1a" stroke-width="1"/>
<line x1="498.66" y1="297.42" x2="503.66" y2="297.42" stroke="#1a1a1a" stroke-width="1"/>
<line x1="498.66" y1="290.2" x2="503.66" y2="290.2" stroke="#1a1a1a" stroke-width="1"/>
<line x1="512.03" y1="309.45" x2="512.03" y2="302.23" stroke="#1a1a1a" stroke-width="1"/>
<line x1="509.53" y1="309.45" x2="514.53" y2="309.45" stroke="#1a1a1a" stroke-width="1"/>
<line x1="509.53" y1="302.23" x2="514.53" y2="302.23" stroke="#1a1a1a" stroke-width="1"/>
<rect x="412.4" y="321.61" width="3.6" height="3.6" fill="#fff" stroke="#1a1a1a" stroke-width="1.1"/>
<rect x="423.27" y="319.69" width="3.6" height="3.6" fill="#fff" stroke="#1a1a1a" stroke-width="1.1"/>
<rect x="434.14" y="304.28" width="3.6" height="3.6" fill="#fff" stroke="#1a1a1a" stroke-width="1.1"/>
<rect x="445.01" y="306.21" width="3.6" height="3.6" fill="#fff" stroke="#1a1a1a" stroke-width="1.1"/>
<rect x="455.88" y="307.65" width="3.6" height="3.6" fill="#fff" stroke="#1a1a1a" stroke-width="1.1"/>
<rect x="466.75" y="303.8" width="3.6" height="3.6" fill="#fff" stroke="#1a1a1a" stroke-width="1.1"/>
<rect x="477.62" y="301.88" width="3.6" height="3.6" fill="#fff" stroke="#1a1a1a" stroke-width="1.1"/>
<rect x="488.49" y="305.25" width="3.6" height="3.6" fill="#fff" stroke="#1a1a1a" stroke-width="1.1"/>
<rect x="499.36" y="291.77" width="3.6" height="3.6" fill="#fff" stroke="#1a1a1a" stroke-width="1.1"/>
<rect x="510.23" y="304.28" width="3.6" height="3.6" fill="#fff" stroke="#1a1a1a" stroke-width="1.1"/>
<polyline points="414.2,321.49 425.07,320.04 435.94,302.23 446.81,302.23 457.68,298.38 468.55,302.23 479.42,291.64 490.29,299.83 501.16,286.35 512.03,304.64" fill="none" stroke="#1a1a1a" stroke-width="1.2" stroke-linejoin="round"/>
<line x1="435.94" y1="307.05" x2="435.94" y2="297.42" stroke="#1a1a1a" stroke-width="1"/>
<line x1="433.44" y1="307.05" x2="438.44" y2="307.05" stroke="#1a1a1a" stroke-width="1"/>
<line x1="433.44" y1="297.42" x2="438.44" y2="297.42" stroke="#1a1a1a" stroke-width="1"/>
<line x1="446.81" y1="304.64" x2="446.81" y2="296.46" stroke="#1a1a1a" stroke-width="1"/>
<line x1="444.31" y1="304.64" x2="449.31" y2="304.64" stroke="#1a1a1a" stroke-width="1"/>
<line x1="444.31" y1="296.46" x2="449.31" y2="296.46" stroke="#1a1a1a" stroke-width="1"/>
<line x1="457.68" y1="308.01" x2="457.68" y2="282.98" stroke="#1a1a1a" stroke-width="1"/>
<line x1="455.18" y1="308.01" x2="460.18" y2="308.01" stroke="#1a1a1a" stroke-width="1"/>
<line x1="455.18" y1="282.98" x2="460.18" y2="282.98" stroke="#1a1a1a" stroke-width="1"/>
<line x1="468.55" y1="304.64" x2="468.55" y2="299.83" stroke="#1a1a1a" stroke-width="1"/>
<line x1="466.05" y1="304.64" x2="471.05" y2="304.64" stroke="#1a1a1a" stroke-width="1"/>
<line x1="466.05" y1="299.83" x2="471.05" y2="299.83" stroke="#1a1a1a" stroke-width="1"/>
<line x1="479.42" y1="302.23" x2="479.42" y2="278.17" stroke="#1a1a1a" stroke-width="1"/>
<line x1="476.92" y1="302.23" x2="481.92" y2="302.23" stroke="#1a1a1a" stroke-width="1"/>
<line x1="476.92" y1="278.17" x2="481.92" y2="278.17" stroke="#1a1a1a" stroke-width="1"/>
<line x1="490.29" y1="303.2" x2="490.29" y2="295.01" stroke="#1a1a1a" stroke-width="1"/>
<line x1="487.79" y1="303.2" x2="492.79" y2="303.2" stroke="#1a1a1a" stroke-width="1"/>
<line x1="487.79" y1="295.01" x2="492.79" y2="295.01" stroke="#1a1a1a" stroke-width="1"/>
<line x1="501.16" y1="297.42" x2="501.16" y2="279.61" stroke="#1a1a1a" stroke-width="1"/>
<line x1="498.66" y1="297.42" x2="503.66" y2="297.42" stroke="#1a1a1a" stroke-width="1"/>
<line x1="498.66" y1="279.61" x2="503.66" y2="279.61" stroke="#1a1a1a" stroke-width="1"/>
<line x1="512.03" y1="308.01" x2="512.03" y2="301.27" stroke="#1a1a1a" stroke-width="1"/>
<line x1="509.53" y1="308.01" x2="514.53" y2="308.01" stroke="#1a1a1a" stroke-width="1"/>
<line x1="509.53" y1="301.27" x2="514.53" y2="301.27" stroke="#1a1a1a" stroke-width="1"/>
<polygon points="414.2,318.49 417.2,321.49 414.2,324.49 411.2,321.49" fill="#1a1a1a"/>
<polygon points="425.07,317.04 428.07,320.04 425.07,323.04 422.07,320.04" fill="#1a1a1a"/>
<polygon points="435.94,299.23 438.94,302.23 435.94,305.23 432.94,302.23" fill="#1a1a1a"/>
<polygon points="446.81,299.23 449.81,302.23 446.81,305.23 443.81,302.23" fill="#1a1a1a"/>
<polygon points="457.68,295.38 460.68,298.38 457.68,301.38 454.68,298.38" fill="#1a1a1a"/>
<polygon points="468.55,299.23 471.55,302.23 468.55,305.23 465.55,302.23" fill="#1a1a1a"/>
<polygon points="479.42,288.64 482.42,291.64 479.42,294.64 476.42,291.64" fill="#1a1a1a"/>
<polygon points="490.29,296.83 493.29,299.83 490.29,302.83 487.29,299.83" fill="#1a1a1a"/>
<polygon points="501.16,283.35 504.16,286.35 501.16,289.35 498.16,286.35" fill="#1a1a1a"/>
<polygon points="512.03,301.64 515.03,304.64 512.03,307.64 509.03,304.64" fill="#1a1a1a"/>
<polyline points="414.2,316.67 425.07,298.86 435.94,289.24 446.81,307.05 457.68,307.05 468.55,303.68 479.42,311.86 490.29,311.86 501.16,309.45 512.03,303.2" fill="none" stroke="#1a1a1a" stroke-width="1.2" stroke-linejoin="round"/>
<line x1="435.94" y1="322.45" x2="435.94" y2="269.5" stroke="#1a1a1a" stroke-width="1"/>
<line x1="433.44" y1="322.45" x2="438.44" y2="322.45" stroke="#1a1a1a" stroke-width="1"/>
<line x1="433.44" y1="269.5" x2="438.44" y2="269.5" stroke="#1a1a1a" stroke-width="1"/>
<line x1="446.81" y1="309.45" x2="446.81" y2="304.64" stroke="#1a1a1a" stroke-width="1"/>
<line x1="444.31" y1="309.45" x2="449.31" y2="309.45" stroke="#1a1a1a" stroke-width="1"/>
<line x1="444.31" y1="304.64" x2="449.31" y2="304.64" stroke="#1a1a1a" stroke-width="1"/>
<line x1="457.68" y1="311.86" x2="457.68" y2="282.98" stroke="#1a1a1a" stroke-width="1"/>
<line x1="455.18" y1="311.86" x2="460.18" y2="311.86" stroke="#1a1a1a" stroke-width="1"/>
<line x1="455.18" y1="282.98" x2="460.18" y2="282.98" stroke="#1a1a1a" stroke-width="1"/>
<line x1="468.55" y1="316.67" x2="468.55" y2="290.2" stroke="#1a1a1a" stroke-width="1"/>
<line x1="466.05" y1="316.67" x2="471.05" y2="316.67" stroke="#1a1a1a" stroke-width="1"/>
<line x1="466.05" y1="290.2" x2="471.05" y2="290.2" stroke="#1a1a1a" stroke-width="1"/>
<line x1="479.42" y1="315.71" x2="479.42" y2="302.23" stroke="#1a1a1a" stroke-width="1"/>
<line x1="476.92" y1="315.71" x2="481.92" y2="315.71" stroke="#1a1a1a" stroke-width="1"/>
<line x1="476.92" y1="302.23" x2="481.92" y2="302.23" stroke="#1a1a1a" stroke-width="1"/>
<line x1="490.29" y1="315.71" x2="490.29" y2="308.01" stroke="#1a1a1a" stroke-width="1"/>
<line x1="487.79" y1="315.71" x2="492.79" y2="315.71" stroke="#1a1a1a" stroke-width="1"/>
<line x1="487.79" y1="308.01" x2="492.79" y2="308.01" stroke="#1a1a1a" stroke-width="1"/>
<line x1="501.16" y1="311.86" x2="501.16" y2="304.64" stroke="#1a1a1a" stroke-width="1"/>
<line x1="498.66" y1="311.86" x2="503.66" y2="311.86" stroke="#1a1a1a" stroke-width="1"/>
<line x1="498.66" y1="304.64" x2="503.66" y2="304.64" stroke="#1a1a1a" stroke-width="1"/>
<line x1="512.03" y1="308.01" x2="512.03" y2="299.83" stroke="#1a1a1a" stroke-width="1"/>
<line x1="509.53" y1="308.01" x2="514.53" y2="308.01" stroke="#1a1a1a" stroke-width="1"/>
<line x1="509.53" y1="299.83" x2="514.53" y2="299.83" stroke="#1a1a1a" stroke-width="1"/>
<polygon points="414.2,314.31 411.94,318.34 416.46,318.34" fill="#fff" stroke="#1a1a1a" stroke-width="1"/>
<polygon points="425.07,296.5 422.81,300.53 427.33,300.53" fill="#fff" stroke="#1a1a1a" stroke-width="1"/>
<polygon points="435.94,286.88 433.68,290.91 438.2,290.91" fill="#fff" stroke="#1a1a1a" stroke-width="1"/>
<polygon points="446.81,304.69 444.55,308.72 449.07,308.72" fill="#fff" stroke="#1a1a1a" stroke-width="1"/>
<polygon points="457.68,304.69 455.42,308.72 459.94,308.72" fill="#fff" stroke="#1a1a1a" stroke-width="1"/>
<polygon points="468.55,301.32 466.29,305.35 470.81,305.35" fill="#fff" stroke="#1a1a1a" stroke-width="1"/>
<polygon points="479.42,309.5 477.16,313.53 481.68,313.53" fill="#fff" stroke="#1a1a1a" stroke-width="1"/>
<polygon points="490.29,309.5 488.03,313.53 492.55,313.53" fill="#fff" stroke="#1a1a1a" stroke-width="1"/>
<polygon points="501.16,307.09 498.9,311.12 503.42,311.12" fill="#fff" stroke="#1a1a1a" stroke-width="1"/>
<polygon points="512.03,300.84 509.77,304.87 514.29,304.87" fill="#fff" stroke="#1a1a1a" stroke-width="1"/>
<line x1="486.2" y1="253.8" x2="496.5" y2="253.8" stroke="#1a1a1a" stroke-width="1.1"/>
<rect x="489.73" y="252.18" width="3.23" height="3.23" fill="#fff" stroke="#1a1a1a" stroke-width="1.1"/>
<text x="498.3" y="255.9" font-size="6.1" font-weight="normal" text-anchor="start" fill="#1a1a1a" stroke="#1a1a1a" stroke-width="0.22">Naive</text>
<line x1="486.2" y1="262.2" x2="496.5" y2="262.2" stroke="#1a1a1a" stroke-width="1.1"/>
<polygon points="491.35,259.86 493.69,262.2 491.35,264.54 489.01,262.2" fill="#1a1a1a"/>
<text x="498.3" y="264.3" font-size="6.1" font-weight="normal" text-anchor="start" fill="#1a1a1a" stroke="#1a1a1a" stroke-width="0.22">CM</text>
<line x1="486.2" y1="270.7" x2="496.5" y2="270.7" stroke="#1a1a1a" stroke-width="1.1"/>
<polygon points="491.35,268.11 488.86,272.54 493.84,272.54" fill="#fff" stroke="#1a1a1a" stroke-width="1"/>
<text x="498.3" y="272.8" font-size="6.1" font-weight="normal" text-anchor="start" fill="#1a1a1a" stroke="#1a1a1a" stroke-width="0.22">EM</text>
<line x1="153.2" y1="375" x2="153.2" y2="448.15" stroke="#1a1a1a" stroke-width="1.3"/>
<line x1="152.7" y1="447.6" x2="262" y2="447.6" stroke="#1a1a1a" stroke-width="1.3"/>
<line x1="151.2" y1="447.6" x2="153.2" y2="447.6" stroke="#1a1a1a" stroke-width="0.9"/>
<text x="150.6" y="449.51" font-size="5.3" font-weight="bold" text-anchor="end" fill="#222" stroke="#222" stroke-width="0.2">0</text>
<line x1="151.2" y1="429.53" x2="153.2" y2="429.53" stroke="#1a1a1a" stroke-width="0.9"/>
<text x="150.6" y="431.43" font-size="5.3" font-weight="bold" text-anchor="end" fill="#222" stroke="#222" stroke-width="0.2">25</text>
<line x1="151.2" y1="411.45" x2="153.2" y2="411.45" stroke="#1a1a1a" stroke-width="0.9"/>
<text x="150.6" y="413.36" font-size="5.3" font-weight="bold" text-anchor="end" fill="#222" stroke="#222" stroke-width="0.2">50</text>
<line x1="151.2" y1="393.38" x2="153.2" y2="393.38" stroke="#1a1a1a" stroke-width="0.9"/>
<text x="150.6" y="395.28" font-size="5.3" font-weight="bold" text-anchor="end" fill="#222" stroke="#222" stroke-width="0.2">75</text>
<line x1="151.2" y1="375.3" x2="153.2" y2="375.3" stroke="#1a1a1a" stroke-width="0.9"/>
<text x="150.6" y="377.21" font-size="5.3" font-weight="bold" text-anchor="end" fill="#222" stroke="#222" stroke-width="0.2">100</text>
<line x1="157.7" y1="447.6" x2="157.7" y2="449.8" stroke="#1a1a1a" stroke-width="0.9"/>
<text x="157.7" y="455.6" font-size="5.3" font-weight="bold" text-anchor="middle" fill="#1a1a1a" stroke="#1a1a1a" stroke-width="0.2">−4</text>
<line x1="168.7" y1="447.6" x2="168.7" y2="449.8" stroke="#1a1a1a" stroke-width="0.9"/>
<text x="168.7" y="455.6" font-size="5.3" font-weight="bold" text-anchor="middle" fill="#1a1a1a" stroke="#1a1a1a" stroke-width="0.2">1</text>
<line x1="179.7" y1="447.6" x2="179.7" y2="449.8" stroke="#1a1a1a" stroke-width="0.9"/>
<text x="179.7" y="455.6" font-size="5.3" font-weight="bold" text-anchor="middle" fill="#1a1a1a" stroke="#1a1a1a" stroke-width="0.2">6</text>
<line x1="190.7" y1="447.6" x2="190.7" y2="449.8" stroke="#1a1a1a" stroke-width="0.9"/>
<text x="190.7" y="455.6" font-size="5.3" font-weight="bold" text-anchor="middle" fill="#1a1a1a" stroke="#1a1a1a" stroke-width="0.2">8</text>
<line x1="201.7" y1="447.6" x2="201.7" y2="449.8" stroke="#1a1a1a" stroke-width="0.9"/>
<text x="201.7" y="455.6" font-size="5.3" font-weight="bold" text-anchor="middle" fill="#1a1a1a" stroke="#1a1a1a" stroke-width="0.2">13</text>
<line x1="212.7" y1="447.6" x2="212.7" y2="449.8" stroke="#1a1a1a" stroke-width="0.9"/>
<text x="212.7" y="455.6" font-size="5.3" font-weight="bold" text-anchor="middle" fill="#1a1a1a" stroke="#1a1a1a" stroke-width="0.2">15</text>
<line x1="223.7" y1="447.6" x2="223.7" y2="449.8" stroke="#1a1a1a" stroke-width="0.9"/>
<text x="223.7" y="455.6" font-size="5.3" font-weight="bold" text-anchor="middle" fill="#1a1a1a" stroke="#1a1a1a" stroke-width="0.2">20</text>
<line x1="234.7" y1="447.6" x2="234.7" y2="449.8" stroke="#1a1a1a" stroke-width="0.9"/>
<text x="234.7" y="455.6" font-size="5.3" font-weight="bold" text-anchor="middle" fill="#1a1a1a" stroke="#1a1a1a" stroke-width="0.2">22</text>
<line x1="245.7" y1="447.6" x2="245.7" y2="449.8" stroke="#1a1a1a" stroke-width="0.9"/>
<text x="245.7" y="455.6" font-size="5.3" font-weight="bold" text-anchor="middle" fill="#1a1a1a" stroke="#1a1a1a" stroke-width="0.2">27</text>
<line x1="256.7" y1="447.6" x2="256.7" y2="449.8" stroke="#1a1a1a" stroke-width="0.9"/>
<text x="256.7" y="455.6" font-size="5.3" font-weight="bold" text-anchor="middle" fill="#1a1a1a" stroke="#1a1a1a" stroke-width="0.2">29</text>
<text x="208.4" y="372.9" font-size="7" font-weight="bold" text-anchor="middle" fill="#1a1a1a" stroke="#1a1a1a" stroke-width="0.2">CD16<tspan font-size="4.5" dy="-2.5">+</tspan><tspan dy="2.5"> NK cells</tspan></text>
<text x="208.3" y="466.6" font-size="6.5" font-weight="bold" text-anchor="middle" fill="#1a1a1a" stroke="#1a1a1a" stroke-width="0.2">Days after ALT-803</text>
<text x="138.3" y="412.8" font-size="6.7" font-weight="bold" text-anchor="middle" fill="#1a1a1a" transform="rotate(-90 138.3 412.8)" stroke="#1a1a1a" stroke-width="0.2">Percent of Ki67<tspan font-size="4.3" dy="-2.4">+</tspan></text>
<polyline points="157.7,443.99 168.7,446.88 179.7,387.59 190.7,408.56 201.7,438.92 212.7,401.33 223.7,415.79 234.7,435.31 245.7,421.57 256.7,443.26" fill="none" stroke="#1a1a1a" stroke-width="1.2" stroke-linejoin="round"/>
<line x1="179.7" y1="393.38" x2="179.7" y2="381.81" stroke="#1a1a1a" stroke-width="1"/>
<line x1="177.2" y1="393.38" x2="182.2" y2="393.38" stroke="#1a1a1a" stroke-width="1"/>
<line x1="177.2" y1="381.81" x2="182.2" y2="381.81" stroke="#1a1a1a" stroke-width="1"/>
<line x1="190.7" y1="411.45" x2="190.7" y2="405.67" stroke="#1a1a1a" stroke-width="1"/>
<line x1="188.2" y1="411.45" x2="193.2" y2="411.45" stroke="#1a1a1a" stroke-width="1"/>
<line x1="188.2" y1="405.67" x2="193.2" y2="405.67" stroke="#1a1a1a" stroke-width="1"/>
<line x1="212.7" y1="410" x2="212.7" y2="393.38" stroke="#1a1a1a" stroke-width="1"/>
<line x1="210.2" y1="410" x2="215.2" y2="410" stroke="#1a1a1a" stroke-width="1"/>
<line x1="210.2" y1="393.38" x2="215.2" y2="393.38" stroke="#1a1a1a" stroke-width="1"/>
<line x1="223.7" y1="421.57" x2="223.7" y2="410" stroke="#1a1a1a" stroke-width="1"/>
<line x1="221.2" y1="421.57" x2="226.2" y2="421.57" stroke="#1a1a1a" stroke-width="1"/>
<line x1="221.2" y1="410" x2="226.2" y2="410" stroke="#1a1a1a" stroke-width="1"/>
<line x1="234.7" y1="445.43" x2="234.7" y2="426.63" stroke="#1a1a1a" stroke-width="1"/>
<line x1="232.2" y1="445.43" x2="237.2" y2="445.43" stroke="#1a1a1a" stroke-width="1"/>
<line x1="232.2" y1="426.63" x2="237.2" y2="426.63" stroke="#1a1a1a" stroke-width="1"/>
<line x1="245.7" y1="425.19" x2="245.7" y2="415.79" stroke="#1a1a1a" stroke-width="1"/>
<line x1="243.2" y1="425.19" x2="248.2" y2="425.19" stroke="#1a1a1a" stroke-width="1"/>
<line x1="243.2" y1="415.79" x2="248.2" y2="415.79" stroke="#1a1a1a" stroke-width="1"/>
<circle cx="157.7" cy="443.99" r="2.1" fill="#1a1a1a"/>
<circle cx="168.7" cy="446.88" r="2.1" fill="#1a1a1a"/>
<circle cx="179.7" cy="387.59" r="2.1" fill="#1a1a1a"/>
<circle cx="190.7" cy="408.56" r="2.1" fill="#1a1a1a"/>
<circle cx="201.7" cy="438.92" r="2.1" fill="#1a1a1a"/>
<circle cx="212.7" cy="401.33" r="2.1" fill="#1a1a1a"/>
<circle cx="223.7" cy="415.79" r="2.1" fill="#1a1a1a"/>
<circle cx="234.7" cy="435.31" r="2.1" fill="#1a1a1a"/>
<circle cx="245.7" cy="421.57" r="2.1" fill="#1a1a1a"/>
<circle cx="256.7" cy="443.26" r="2.1" fill="#1a1a1a"/>
<line x1="278.8" y1="375" x2="278.8" y2="448.15" stroke="#1a1a1a" stroke-width="1.3"/>
<line x1="278.3" y1="447.6" x2="387" y2="447.6" stroke="#1a1a1a" stroke-width="1.3"/>
<line x1="276.8" y1="447.6" x2="278.8" y2="447.6" stroke="#1a1a1a" stroke-width="0.9"/>
<text x="276.2" y="449.51" font-size="5.3" font-weight="bold" text-anchor="end" fill="#222" stroke="#222" stroke-width="0.2">0</text>
<line x1="276.8" y1="435.55" x2="278.8" y2="435.55" stroke="#1a1a1a" stroke-width="0.9"/>
<text x="276.2" y="437.46" font-size="5.3" font-weight="bold" text-anchor="end" fill="#222" stroke="#222" stroke-width="0.2">10</text>
<line x1="276.8" y1="423.5" x2="278.8" y2="423.5" stroke="#1a1a1a" stroke-width="0.9"/>
<text x="276.2" y="425.41" font-size="5.3" font-weight="bold" text-anchor="end" fill="#222" stroke="#222" stroke-width="0.2">20</text>
<line x1="276.8" y1="411.45" x2="278.8" y2="411.45" stroke="#1a1a1a" stroke-width="0.9"/>
<text x="276.2" y="413.36" font-size="5.3" font-weight="bold" text-anchor="end" fill="#222" stroke="#222" stroke-width="0.2">30</text>
<line x1="276.8" y1="399.4" x2="278.8" y2="399.4" stroke="#1a1a1a" stroke-width="0.9"/>
<text x="276.2" y="401.31" font-size="5.3" font-weight="bold" text-anchor="end" fill="#222" stroke="#222" stroke-width="0.2">40</text>
<line x1="276.8" y1="387.35" x2="278.8" y2="387.35" stroke="#1a1a1a" stroke-width="0.9"/>
<text x="276.2" y="389.26" font-size="5.3" font-weight="bold" text-anchor="end" fill="#222" stroke="#222" stroke-width="0.2">50</text>
<line x1="276.8" y1="375.3" x2="278.8" y2="375.3" stroke="#1a1a1a" stroke-width="0.9"/>
<text x="276.2" y="377.21" font-size="5.3" font-weight="bold" text-anchor="end" fill="#222" stroke="#222" stroke-width="0.2">60</text>
<line x1="284.6" y1="447.6" x2="284.6" y2="449.8" stroke="#1a1a1a" stroke-width="0.9"/>
<text x="284.6" y="455.6" font-size="5.3" font-weight="bold" text-anchor="middle" fill="#1a1a1a" stroke="#1a1a1a" stroke-width="0.2">−4</text>
<line x1="295.45" y1="447.6" x2="295.45" y2="449.8" stroke="#1a1a1a" stroke-width="0.9"/>
<text x="295.45" y="455.6" font-size="5.3" font-weight="bold" text-anchor="middle" fill="#1a1a1a" stroke="#1a1a1a" stroke-width="0.2">1</text>
<line x1="306.3" y1="447.6" x2="306.3" y2="449.8" stroke="#1a1a1a" stroke-width="0.9"/>
<text x="306.3" y="455.6" font-size="5.3" font-weight="bold" text-anchor="middle" fill="#1a1a1a" stroke="#1a1a1a" stroke-width="0.2">6</text>
<line x1="317.15" y1="447.6" x2="317.15" y2="449.8" stroke="#1a1a1a" stroke-width="0.9"/>
<text x="317.15" y="455.6" font-size="5.3" font-weight="bold" text-anchor="middle" fill="#1a1a1a" stroke="#1a1a1a" stroke-width="0.2">8</text>
<line x1="328" y1="447.6" x2="328" y2="449.8" stroke="#1a1a1a" stroke-width="0.9"/>
<text x="328" y="455.6" font-size="5.3" font-weight="bold" text-anchor="middle" fill="#1a1a1a" stroke="#1a1a1a" stroke-width="0.2">13</text>
<line x1="338.85" y1="447.6" x2="338.85" y2="449.8" stroke="#1a1a1a" stroke-width="0.9"/>
<text x="338.85" y="455.6" font-size="5.3" font-weight="bold" text-anchor="middle" fill="#1a1a1a" stroke="#1a1a1a" stroke-width="0.2">15</text>
<line x1="349.7" y1="447.6" x2="349.7" y2="449.8" stroke="#1a1a1a" stroke-width="0.9"/>
<text x="349.7" y="455.6" font-size="5.3" font-weight="bold" text-anchor="middle" fill="#1a1a1a" stroke="#1a1a1a" stroke-width="0.2">20</text>
<line x1="360.55" y1="447.6" x2="360.55" y2="449.8" stroke="#1a1a1a" stroke-width="0.9"/>
<text x="360.55" y="455.6" font-size="5.3" font-weight="bold" text-anchor="middle" fill="#1a1a1a" stroke="#1a1a1a" stroke-width="0.2">22</text>
<line x1="371.4" y1="447.6" x2="371.4" y2="449.8" stroke="#1a1a1a" stroke-width="0.9"/>
<text x="371.4" y="455.6" font-size="5.3" font-weight="bold" text-anchor="middle" fill="#1a1a1a" stroke="#1a1a1a" stroke-width="0.2">27</text>
<line x1="382.25" y1="447.6" x2="382.25" y2="449.8" stroke="#1a1a1a" stroke-width="0.9"/>
<text x="382.25" y="455.6" font-size="5.3" font-weight="bold" text-anchor="middle" fill="#1a1a1a" stroke="#1a1a1a" stroke-width="0.2">29</text>
<text x="333" y="372.9" font-size="7" font-weight="bold" text-anchor="middle" fill="#1a1a1a" stroke="#1a1a1a" stroke-width="0.2">CD8 T cells</text>
<text x="334" y="466.6" font-size="6.5" font-weight="bold" text-anchor="middle" fill="#1a1a1a" stroke="#1a1a1a" stroke-width="0.2">Days after ALT-803</text>
<polyline points="284.6,423.5 295.45,386.15 306.3,439.17 317.15,446.4 328,446.4 338.85,446.4 349.7,446.4 360.55,446.4 371.4,446.4 382.25,446.4" fill="none" stroke="#1a1a1a" stroke-width="1.2" stroke-linejoin="round"/>
<line x1="295.45" y1="389.76" x2="295.45" y2="382.53" stroke="#1a1a1a" stroke-width="1"/>
<line x1="292.95" y1="389.76" x2="297.95" y2="389.76" stroke="#1a1a1a" stroke-width="1"/>
<line x1="292.95" y1="382.53" x2="297.95" y2="382.53" stroke="#1a1a1a" stroke-width="1"/>
<line x1="306.3" y1="442.78" x2="306.3" y2="433.14" stroke="#1a1a1a" stroke-width="1"/>
<line x1="303.8" y1="442.78" x2="308.8" y2="442.78" stroke="#1a1a1a" stroke-width="1"/>
<line x1="303.8" y1="433.14" x2="308.8" y2="433.14" stroke="#1a1a1a" stroke-width="1"/>
<rect x="282.8" y="421.7" width="3.6" height="3.6" fill="#fff" stroke="#1a1a1a" stroke-width="1.1"/>
<rect x="293.65" y="384.35" width="3.6" height="3.6" fill="#fff" stroke="#1a1a1a" stroke-width="1.1"/>
<rect x="304.5" y="437.37" width="3.6" height="3.6" fill="#fff" stroke="#1a1a1a" stroke-width="1.1"/>
<rect x="315.35" y="444.6" width="3.6" height="3.6" fill="#fff" stroke="#1a1a1a" stroke-width="1.1"/>
<rect x="326.2" y="444.6" width="3.6" height="3.6" fill="#fff" stroke="#1a1a1a" stroke-width="1.1"/>
<rect x="337.05" y="444.6" width="3.6" height="3.6" fill="#fff" stroke="#1a1a1a" stroke-width="1.1"/>
<rect x="347.9" y="444.6" width="3.6" height="3.6" fill="#fff" stroke="#1a1a1a" stroke-width="1.1"/>
<rect x="358.75" y="444.6" width="3.6" height="3.6" fill="#fff" stroke="#1a1a1a" stroke-width="1.1"/>
<rect x="369.6" y="444.6" width="3.6" height="3.6" fill="#fff" stroke="#1a1a1a" stroke-width="1.1"/>
<rect x="380.45" y="444.6" width="3.6" height="3.6" fill="#fff" stroke="#1a1a1a" stroke-width="1.1"/>
<polyline points="284.6,383.74 295.45,427.12 306.3,409.04 317.15,442.78 328,446.4 338.85,443.99 349.7,446.4 360.55,446.4 371.4,446.4 382.25,446.4" fill="none" stroke="#1a1a1a" stroke-width="1.2" stroke-linejoin="round"/>
<line x1="295.45" y1="429.53" x2="295.45" y2="424.71" stroke="#1a1a1a" stroke-width="1"/>
<line x1="292.95" y1="429.53" x2="297.95" y2="429.53" stroke="#1a1a1a" stroke-width="1"/>
<line x1="292.95" y1="424.71" x2="297.95" y2="424.71" stroke="#1a1a1a" stroke-width="1"/>
<line x1="306.3" y1="421.09" x2="306.3" y2="388.56" stroke="#1a1a1a" stroke-width="1"/>
<line x1="303.8" y1="421.09" x2="308.8" y2="421.09" stroke="#1a1a1a" stroke-width="1"/>
<line x1="303.8" y1="388.56" x2="308.8" y2="388.56" stroke="#1a1a1a" stroke-width="1"/>
<polygon points="284.6,380.74 287.6,383.74 284.6,386.74 281.6,383.74" fill="#1a1a1a"/>
<polygon points="295.45,424.12 298.45,427.12 295.45,430.12 292.45,427.12" fill="#1a1a1a"/>
<polygon points="306.3,406.04 309.3,409.04 306.3,412.04 303.3,409.04" fill="#1a1a1a"/>
<polygon points="317.15,439.78 320.15,442.78 317.15,445.78 314.15,442.78" fill="#1a1a1a"/>
<polygon points="328,443.4 331,446.4 328,449.4 325,446.4" fill="#1a1a1a"/>
<polygon points="338.85,440.99 341.85,443.99 338.85,446.99 335.85,443.99" fill="#1a1a1a"/>
<polygon points="349.7,443.4 352.7,446.4 349.7,449.4 346.7,446.4" fill="#1a1a1a"/>
<polygon points="360.55,443.4 363.55,446.4 360.55,449.4 357.55,446.4" fill="#1a1a1a"/>
<polygon points="371.4,443.4 374.4,446.4 371.4,449.4 368.4,446.4" fill="#1a1a1a"/>
<polygon points="382.25,443.4 385.25,446.4 382.25,449.4 379.25,446.4" fill="#1a1a1a"/>
<polyline points="284.6,441.58 295.45,446.4 306.3,411.45 317.15,431.94 328,443.99 338.85,440.37 349.7,443.99 360.55,446.4 371.4,446.4 382.25,446.4" fill="none" stroke="#1a1a1a" stroke-width="1.2" stroke-linejoin="round"/>
<line x1="284.6" y1="443.99" x2="284.6" y2="437.96" stroke="#1a1a1a" stroke-width="1"/>
<line x1="282.1" y1="443.99" x2="287.1" y2="443.99" stroke="#1a1a1a" stroke-width="1"/>
<line x1="282.1" y1="437.96" x2="287.1" y2="437.96" stroke="#1a1a1a" stroke-width="1"/>
<line x1="306.3" y1="423.5" x2="306.3" y2="399.4" stroke="#1a1a1a" stroke-width="1"/>
<line x1="303.8" y1="423.5" x2="308.8" y2="423.5" stroke="#1a1a1a" stroke-width="1"/>
<line x1="303.8" y1="399.4" x2="308.8" y2="399.4" stroke="#1a1a1a" stroke-width="1"/>
<line x1="317.15" y1="434.35" x2="317.15" y2="429.53" stroke="#1a1a1a" stroke-width="1"/>
<line x1="314.65" y1="434.35" x2="319.65" y2="434.35" stroke="#1a1a1a" stroke-width="1"/>
<line x1="314.65" y1="429.53" x2="319.65" y2="429.53" stroke="#1a1a1a" stroke-width="1"/>
<line x1="338.85" y1="441.58" x2="338.85" y2="439.17" stroke="#1a1a1a" stroke-width="1"/>
<line x1="336.35" y1="441.58" x2="341.35" y2="441.58" stroke="#1a1a1a" stroke-width="1"/>
<line x1="336.35" y1="439.17" x2="341.35" y2="439.17" stroke="#1a1a1a" stroke-width="1"/>
<polygon points="284.6,439.22 282.34,443.25 286.86,443.25" fill="#fff" stroke="#1a1a1a" stroke-width="1"/>
<polygon points="295.45,444.04 293.19,448.07 297.71,448.07" fill="#fff" stroke="#1a1a1a" stroke-width="1"/>
<polygon points="306.3,409.09 304.04,413.12 308.56,413.12" fill="#fff" stroke="#1a1a1a" stroke-width="1"/>
<polygon points="317.15,429.57 314.89,433.61 319.41,433.61" fill="#fff" stroke="#1a1a1a" stroke-width="1"/>
<polygon points="328,441.62 325.74,445.66 330.26,445.66" fill="#fff" stroke="#1a1a1a" stroke-width="1"/>
<polygon points="338.85,438.01 336.59,442.04 341.11,442.04" fill="#fff" stroke="#1a1a1a" stroke-width="1"/>
<polygon points="349.7,441.62 347.44,445.66 351.96,445.66" fill="#fff" stroke="#1a1a1a" stroke-width="1"/>
<polygon points="360.55,444.04 358.29,448.07 362.81,448.07" fill="#fff" stroke="#1a1a1a" stroke-width="1"/>
<polygon points="371.4,444.04 369.14,448.07 373.66,448.07" fill="#fff" stroke="#1a1a1a" stroke-width="1"/>
<polygon points="382.25,444.04 379.99,448.07 384.51,448.07" fill="#fff" stroke="#1a1a1a" stroke-width="1"/>
<line x1="355.8" y1="383.8" x2="366.2" y2="383.8" stroke="#1a1a1a" stroke-width="1.1"/>
<rect x="359.38" y="382.18" width="3.23" height="3.23" fill="#fff" stroke="#1a1a1a" stroke-width="1.1"/>
<text x="368.1" y="385.9" font-size="6.1" font-weight="normal" text-anchor="start" fill="#1a1a1a" stroke="#1a1a1a" stroke-width="0.22">Naive</text>
<line x1="355.8" y1="392.2" x2="366.2" y2="392.2" stroke="#1a1a1a" stroke-width="1.1"/>
<polygon points="361,389.86 363.34,392.2 361,394.54 358.66,392.2" fill="#1a1a1a"/>
<text x="368.1" y="394.3" font-size="6.1" font-weight="normal" text-anchor="start" fill="#1a1a1a" stroke="#1a1a1a" stroke-width="0.22">CM</text>
<line x1="355.8" y1="400.7" x2="366.2" y2="400.7" stroke="#1a1a1a" stroke-width="1.1"/>
<polygon points="361,398.11 358.51,402.54 363.49,402.54" fill="#fff" stroke="#1a1a1a" stroke-width="1"/>
<text x="368.1" y="402.8" font-size="6.1" font-weight="normal" text-anchor="start" fill="#1a1a1a" stroke="#1a1a1a" stroke-width="0.22">EM</text>
<line x1="404.8" y1="375" x2="404.8" y2="448.15" stroke="#1a1a1a" stroke-width="1.3"/>
<line x1="404.3" y1="447.6" x2="513" y2="447.6" stroke="#1a1a1a" stroke-width="1.3"/>
<line x1="402.8" y1="447.6" x2="404.8" y2="447.6" stroke="#1a1a1a" stroke-width="0.9"/>
<text x="402.2" y="449.51" font-size="5.3" font-weight="bold" text-anchor="end" fill="#222" stroke="#222" stroke-width="0.2">0</text>
<line x1="402.8" y1="437.27" x2="404.8" y2="437.27" stroke="#1a1a1a" stroke-width="0.9"/>
<text x="402.2" y="439.18" font-size="5.3" font-weight="bold" text-anchor="end" fill="#222" stroke="#222" stroke-width="0.2">5</text>
<line x1="402.8" y1="426.94" x2="404.8" y2="426.94" stroke="#1a1a1a" stroke-width="0.9"/>
<text x="402.2" y="428.85" font-size="5.3" font-weight="bold" text-anchor="end" fill="#222" stroke="#222" stroke-width="0.2">10</text>
<line x1="402.8" y1="416.61" x2="404.8" y2="416.61" stroke="#1a1a1a" stroke-width="0.9"/>
<text x="402.2" y="418.52" font-size="5.3" font-weight="bold" text-anchor="end" fill="#222" stroke="#222" stroke-width="0.2">15</text>
<line x1="402.8" y1="406.29" x2="404.8" y2="406.29" stroke="#1a1a1a" stroke-width="0.9"/>
<text x="402.2" y="408.19" font-size="5.3" font-weight="bold" text-anchor="end" fill="#222" stroke="#222" stroke-width="0.2">20</text>
<line x1="402.8" y1="395.96" x2="404.8" y2="395.96" stroke="#1a1a1a" stroke-width="0.9"/>
<text x="402.2" y="397.87" font-size="5.3" font-weight="bold" text-anchor="end" fill="#222" stroke="#222" stroke-width="0.2">25</text>
<line x1="402.8" y1="385.63" x2="404.8" y2="385.63" stroke="#1a1a1a" stroke-width="0.9"/>
<text x="402.2" y="387.54" font-size="5.3" font-weight="bold" text-anchor="end" fill="#222" stroke="#222" stroke-width="0.2">30</text>
<line x1="402.8" y1="375.3" x2="404.8" y2="375.3" stroke="#1a1a1a" stroke-width="0.9"/>
<text x="402.2" y="377.21" font-size="5.3" font-weight="bold" text-anchor="end" fill="#222" stroke="#222" stroke-width="0.2">35</text>
<line x1="410.9" y1="447.6" x2="410.9" y2="449.8" stroke="#1a1a1a" stroke-width="0.9"/>
<text x="410.9" y="455.6" font-size="5.3" font-weight="bold" text-anchor="middle" fill="#1a1a1a" stroke="#1a1a1a" stroke-width="0.2">−4</text>
<line x1="421.68" y1="447.6" x2="421.68" y2="449.8" stroke="#1a1a1a" stroke-width="0.9"/>
<text x="421.68" y="455.6" font-size="5.3" font-weight="bold" text-anchor="middle" fill="#1a1a1a" stroke="#1a1a1a" stroke-width="0.2">1</text>
<line x1="432.46" y1="447.6" x2="432.46" y2="449.8" stroke="#1a1a1a" stroke-width="0.9"/>
<text x="432.46" y="455.6" font-size="5.3" font-weight="bold" text-anchor="middle" fill="#1a1a1a" stroke="#1a1a1a" stroke-width="0.2">6</text>
<line x1="443.24" y1="447.6" x2="443.24" y2="449.8" stroke="#1a1a1a" stroke-width="0.9"/>
<text x="443.24" y="455.6" font-size="5.3" font-weight="bold" text-anchor="middle" fill="#1a1a1a" stroke="#1a1a1a" stroke-width="0.2">8</text>
<line x1="454.02" y1="447.6" x2="454.02" y2="449.8" stroke="#1a1a1a" stroke-width="0.9"/>
<text x="454.02" y="455.6" font-size="5.3" font-weight="bold" text-anchor="middle" fill="#1a1a1a" stroke="#1a1a1a" stroke-width="0.2">13</text>
<line x1="464.8" y1="447.6" x2="464.8" y2="449.8" stroke="#1a1a1a" stroke-width="0.9"/>
<text x="464.8" y="455.6" font-size="5.3" font-weight="bold" text-anchor="middle" fill="#1a1a1a" stroke="#1a1a1a" stroke-width="0.2">15</text>
<line x1="475.58" y1="447.6" x2="475.58" y2="449.8" stroke="#1a1a1a" stroke-width="0.9"/>
<text x="475.58" y="455.6" font-size="5.3" font-weight="bold" text-anchor="middle" fill="#1a1a1a" stroke="#1a1a1a" stroke-width="0.2">20</text>
<line x1="486.36" y1="447.6" x2="486.36" y2="449.8" stroke="#1a1a1a" stroke-width="0.9"/>
<text x="486.36" y="455.6" font-size="5.3" font-weight="bold" text-anchor="middle" fill="#1a1a1a" stroke="#1a1a1a" stroke-width="0.2">22</text>
<line x1="497.14" y1="447.6" x2="497.14" y2="449.8" stroke="#1a1a1a" stroke-width="0.9"/>
<text x="497.14" y="455.6" font-size="5.3" font-weight="bold" text-anchor="middle" fill="#1a1a1a" stroke="#1a1a1a" stroke-width="0.2">27</text>
<line x1="507.92" y1="447.6" x2="507.92" y2="449.8" stroke="#1a1a1a" stroke-width="0.9"/>
<text x="507.92" y="455.6" font-size="5.3" font-weight="bold" text-anchor="middle" fill="#1a1a1a" stroke="#1a1a1a" stroke-width="0.2">29</text>
<text x="459.5" y="372.9" font-size="7" font-weight="bold" text-anchor="middle" fill="#1a1a1a" stroke="#1a1a1a" stroke-width="0.2">CD4 T cells</text>
<text x="460.3" y="466.6" font-size="6.5" font-weight="bold" text-anchor="middle" fill="#1a1a1a" stroke="#1a1a1a" stroke-width="0.2">Days after ALT-803</text>
<polyline points="410.9,440.37 421.68,435.21 432.46,439.34 443.24,446.57 454.02,446.57 464.8,443.06 475.58,446.57 486.36,446.57 497.14,446.98 507.92,447.19" fill="none" stroke="#1a1a1a" stroke-width="1.2" stroke-linejoin="round"/>
<line x1="410.9" y1="442.44" x2="410.9" y2="438.3" stroke="#1a1a1a" stroke-width="1"/>
<line x1="408.4" y1="442.44" x2="413.4" y2="442.44" stroke="#1a1a1a" stroke-width="1"/>
<line x1="408.4" y1="438.3" x2="413.4" y2="438.3" stroke="#1a1a1a" stroke-width="1"/>
<line x1="421.68" y1="445.53" x2="421.68" y2="425.91" stroke="#1a1a1a" stroke-width="1"/>
<line x1="419.18" y1="445.53" x2="424.18" y2="445.53" stroke="#1a1a1a" stroke-width="1"/>
<line x1="419.18" y1="425.91" x2="424.18" y2="425.91" stroke="#1a1a1a" stroke-width="1"/>
<line x1="432.46" y1="444.5" x2="432.46" y2="432.73" stroke="#1a1a1a" stroke-width="1"/>
<line x1="429.96" y1="444.5" x2="434.96" y2="444.5" stroke="#1a1a1a" stroke-width="1"/>
<line x1="429.96" y1="432.73" x2="434.96" y2="432.73" stroke="#1a1a1a" stroke-width="1"/>
<line x1="464.8" y1="444.5" x2="464.8" y2="441.4" stroke="#1a1a1a" stroke-width="1"/>
<line x1="462.3" y1="444.5" x2="467.3" y2="444.5" stroke="#1a1a1a" stroke-width="1"/>
<line x1="462.3" y1="441.4" x2="467.3" y2="441.4" stroke="#1a1a1a" stroke-width="1"/>
<rect x="409.1" y="438.57" width="3.6" height="3.6" fill="#fff" stroke="#1a1a1a" stroke-width="1.1"/>
<rect x="419.88" y="433.41" width="3.6" height="3.6" fill="#fff" stroke="#1a1a1a" stroke-width="1.1"/>
<rect x="430.66" y="437.54" width="3.6" height="3.6" fill="#fff" stroke="#1a1a1a" stroke-width="1.1"/>
<rect x="441.44" y="444.77" width="3.6" height="3.6" fill="#fff" stroke="#1a1a1a" stroke-width="1.1"/>
<rect x="452.22" y="444.77" width="3.6" height="3.6" fill="#fff" stroke="#1a1a1a" stroke-width="1.1"/>
<rect x="463" y="441.26" width="3.6" height="3.6" fill="#fff" stroke="#1a1a1a" stroke-width="1.1"/>
<rect x="473.78" y="444.77" width="3.6" height="3.6" fill="#fff" stroke="#1a1a1a" stroke-width="1.1"/>
<rect x="484.56" y="444.77" width="3.6" height="3.6" fill="#fff" stroke="#1a1a1a" stroke-width="1.1"/>
<rect x="495.34" y="445.18" width="3.6" height="3.6" fill="#fff" stroke="#1a1a1a" stroke-width="1.1"/>
<rect x="506.12" y="445.39" width="3.6" height="3.6" fill="#fff" stroke="#1a1a1a" stroke-width="1.1"/>
<polyline points="410.9,427.56 421.68,441.4 432.46,405.25 443.24,427.98 454.02,436.24 464.8,425.91 475.58,439.34 486.36,442.44 497.14,443.47 507.92,445.53" fill="none" stroke="#1a1a1a" stroke-width="1.2" stroke-linejoin="round"/>
<line x1="410.9" y1="433.14" x2="410.9" y2="421.78" stroke="#1a1a1a" stroke-width="1"/>
<line x1="408.4" y1="433.14" x2="413.4" y2="433.14" stroke="#1a1a1a" stroke-width="1"/>
<line x1="408.4" y1="421.78" x2="413.4" y2="421.78" stroke="#1a1a1a" stroke-width="1"/>
<line x1="432.46" y1="426.94" x2="432.46" y2="381.5" stroke="#1a1a1a" stroke-width="1"/>
<line x1="429.96" y1="426.94" x2="434.96" y2="426.94" stroke="#1a1a1a" stroke-width="1"/>
<line x1="429.96" y1="381.5" x2="434.96" y2="381.5" stroke="#1a1a1a" stroke-width="1"/>
<line x1="443.24" y1="430.04" x2="443.24" y2="425.91" stroke="#1a1a1a" stroke-width="1"/>
<line x1="440.74" y1="430.04" x2="445.74" y2="430.04" stroke="#1a1a1a" stroke-width="1"/>
<line x1="440.74" y1="425.91" x2="445.74" y2="425.91" stroke="#1a1a1a" stroke-width="1"/>
<line x1="454.02" y1="445.53" x2="454.02" y2="425.91" stroke="#1a1a1a" stroke-width="1"/>
<line x1="451.52" y1="445.53" x2="456.52" y2="445.53" stroke="#1a1a1a" stroke-width="1"/>
<line x1="451.52" y1="425.91" x2="456.52" y2="425.91" stroke="#1a1a1a" stroke-width="1"/>
<line x1="464.8" y1="434.17" x2="464.8" y2="414.55" stroke="#1a1a1a" stroke-width="1"/>
<line x1="462.3" y1="434.17" x2="467.3" y2="434.17" stroke="#1a1a1a" stroke-width="1"/>
<line x1="462.3" y1="414.55" x2="467.3" y2="414.55" stroke="#1a1a1a" stroke-width="1"/>
<line x1="475.58" y1="440.37" x2="475.58" y2="437.27" stroke="#1a1a1a" stroke-width="1"/>
<line x1="473.08" y1="440.37" x2="478.08" y2="440.37" stroke="#1a1a1a" stroke-width="1"/>
<line x1="473.08" y1="437.27" x2="478.08" y2="437.27" stroke="#1a1a1a" stroke-width="1"/>
<line x1="486.36" y1="444.5" x2="486.36" y2="440.37" stroke="#1a1a1a" stroke-width="1"/>
<line x1="483.86" y1="444.5" x2="488.86" y2="444.5" stroke="#1a1a1a" stroke-width="1"/>
<line x1="483.86" y1="440.37" x2="488.86" y2="440.37" stroke="#1a1a1a" stroke-width="1"/>
<polygon points="410.9,424.56 413.9,427.56 410.9,430.56 407.9,427.56" fill="#1a1a1a"/>
<polygon points="421.68,438.4 424.68,441.4 421.68,444.4 418.68,441.4" fill="#1a1a1a"/>
<polygon points="432.46,402.25 435.46,405.25 432.46,408.25 429.46,405.25" fill="#1a1a1a"/>
<polygon points="443.24,424.98 446.24,427.98 443.24,430.98 440.24,427.98" fill="#1a1a1a"/>
<polygon points="454.02,433.24 457.02,436.24 454.02,439.24 451.02,436.24" fill="#1a1a1a"/>
<polygon points="464.8,422.91 467.8,425.91 464.8,428.91 461.8,425.91" fill="#1a1a1a"/>
<polygon points="475.58,436.34 478.58,439.34 475.58,442.34 472.58,439.34" fill="#1a1a1a"/>
<polygon points="486.36,439.44 489.36,442.44 486.36,445.44 483.36,442.44" fill="#1a1a1a"/>
<polygon points="497.14,440.47 500.14,443.47 497.14,446.47 494.14,443.47" fill="#1a1a1a"/>
<polygon points="507.92,442.53 510.92,445.53 507.92,448.53 504.92,445.53" fill="#1a1a1a"/>
<polyline points="410.9,439.34 421.68,446.57 432.46,416.61 443.24,421.78 454.02,435.21 464.8,430.04 475.58,435.62 486.36,439.34 497.14,438.72 507.92,440.37" fill="none" stroke="#1a1a1a" stroke-width="1.2" stroke-linejoin="round"/>
<line x1="432.46" y1="420.75" x2="432.46" y2="410.42" stroke="#1a1a1a" stroke-width="1"/>
<line x1="429.96" y1="420.75" x2="434.96" y2="420.75" stroke="#1a1a1a" stroke-width="1"/>
<line x1="429.96" y1="410.42" x2="434.96" y2="410.42" stroke="#1a1a1a" stroke-width="1"/>
<line x1="464.8" y1="435.21" x2="464.8" y2="426.94" stroke="#1a1a1a" stroke-width="1"/>
<line x1="462.3" y1="435.21" x2="467.3" y2="435.21" stroke="#1a1a1a" stroke-width="1"/>
<line x1="462.3" y1="426.94" x2="467.3" y2="426.94" stroke="#1a1a1a" stroke-width="1"/>
<line x1="486.36" y1="441.4" x2="486.36" y2="437.27" stroke="#1a1a1a" stroke-width="1"/>
<line x1="483.86" y1="441.4" x2="488.86" y2="441.4" stroke="#1a1a1a" stroke-width="1"/>
<line x1="483.86" y1="437.27" x2="488.86" y2="437.27" stroke="#1a1a1a" stroke-width="1"/>
<polygon points="410.9,436.98 408.64,441.01 413.16,441.01" fill="#fff" stroke="#1a1a1a" stroke-width="1"/>
<polygon points="421.68,444.21 419.42,448.24 423.94,448.24" fill="#fff" stroke="#1a1a1a" stroke-width="1"/>
<polygon points="432.46,414.25 430.2,418.28 434.72,418.28" fill="#fff" stroke="#1a1a1a" stroke-width="1"/>
<polygon points="443.24,419.42 440.98,423.45 445.5,423.45" fill="#fff" stroke="#1a1a1a" stroke-width="1"/>
<polygon points="454.02,432.85 451.76,436.88 456.28,436.88" fill="#fff" stroke="#1a1a1a" stroke-width="1"/>
<polygon points="464.8,427.68 462.54,431.71 467.06,431.71" fill="#fff" stroke="#1a1a1a" stroke-width="1"/>
<polygon points="475.58,433.26 473.32,437.29 477.84,437.29" fill="#fff" stroke="#1a1a1a" stroke-width="1"/>
<polygon points="486.36,436.98 484.1,441.01 488.62,441.01" fill="#fff" stroke="#1a1a1a" stroke-width="1"/>
<polygon points="497.14,436.36 494.88,440.39 499.4,440.39" fill="#fff" stroke="#1a1a1a" stroke-width="1"/>
<polygon points="507.92,438.01 505.66,442.04 510.18,442.04" fill="#fff" stroke="#1a1a1a" stroke-width="1"/>
<line x1="481.8" y1="383.8" x2="492.2" y2="383.8" stroke="#1a1a1a" stroke-width="1.1"/>
<rect x="485.38" y="382.18" width="3.23" height="3.23" fill="#fff" stroke="#1a1a1a" stroke-width="1.1"/>
<text x="494.2" y="385.9" font-size="6.1" font-weight="normal" text-anchor="start" fill="#1a1a1a" stroke="#1a1a1a" stroke-width="0.22">Naive</text>
<line x1="481.8" y1="392.2" x2="492.2" y2="392.2" stroke="#1a1a1a" stroke-width="1.1"/>
<polygon points="487,389.86 489.34,392.2 487,394.54 484.66,392.2" fill="#1a1a1a"/>
<text x="494.2" y="394.3" font-size="6.1" font-weight="normal" text-anchor="start" fill="#1a1a1a" stroke="#1a1a1a" stroke-width="0.22">CM</text>
<line x1="481.8" y1="400.7" x2="492.2" y2="400.7" stroke="#1a1a1a" stroke-width="1.1"/>
<polygon points="487,398.11 484.51,402.54 489.49,402.54" fill="#fff" stroke="#1a1a1a" stroke-width="1"/>
<text x="494.2" y="402.8" font-size="6.1" font-weight="normal" text-anchor="start" fill="#1a1a1a" stroke="#1a1a1a" stroke-width="0.22">EM</text>
</svg>
</body></html>
